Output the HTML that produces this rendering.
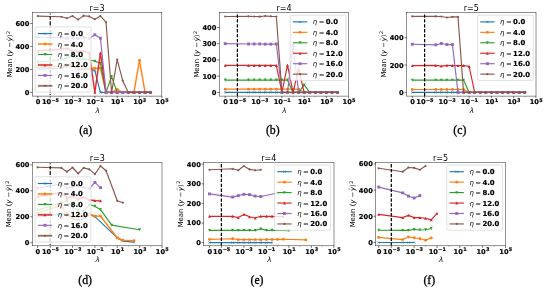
<!DOCTYPE html>
<html lang="en"><head><meta charset="utf-8"><title>Mean squared error vs lambda</title>
<style>html,body{margin:0;padding:0;background:#fff}svg{display:block;filter:blur(0.4px)}.b{font-weight:bold;stroke:#000;stroke-width:0.17px}text{white-space:pre}</style>
</head><body>
<svg width="550" height="292" viewBox="0 0 550 292" font-family="'DejaVu Sans','Liberation Sans',sans-serif" fill="#000">
<rect width="550" height="292" fill="#fff"/>
<g>
<clipPath id="ca"><rect x="32.3" y="12.5" width="129.5" height="83.6"/></clipPath>
<g clip-path="url(#ca)">
<path d="M37.8 69.1L61.36 67.83L66.94 66.57L72.52 65.54L78.1 69.44L83.68 70.01L89.26 68.75L94.84 70.59L100.42 92.4L106 92.4L111.58 92.4L117.16 92.4L122.74 92.4L128.32 92.4L133.9 92.4L139.48 92.4L145.06 92.4L150.64 92.4" fill="none" stroke="#1f77b4" stroke-width="1.15" stroke-linejoin="round"/>
<path d="M36.64 67.94L38.96 70.26M36.64 70.26L38.96 67.94" stroke="#1f77b4" stroke-width="0.6" fill="none"/>
<path d="M60.2 66.67L62.52 68.99M60.2 68.99L62.52 66.67" stroke="#1f77b4" stroke-width="0.6" fill="none"/>
<path d="M65.78 65.41L68.1 67.73M65.78 67.73L68.1 65.41" stroke="#1f77b4" stroke-width="0.6" fill="none"/>
<path d="M71.36 64.38L73.68 66.7M71.36 66.7L73.68 64.38" stroke="#1f77b4" stroke-width="0.6" fill="none"/>
<path d="M76.94 68.28L79.26 70.6M76.94 70.6L79.26 68.28" stroke="#1f77b4" stroke-width="0.6" fill="none"/>
<path d="M82.52 68.85L84.84 71.17M82.52 71.17L84.84 68.85" stroke="#1f77b4" stroke-width="0.6" fill="none"/>
<path d="M88.1 67.59L90.42 69.91M88.1 69.91L90.42 67.59" stroke="#1f77b4" stroke-width="0.6" fill="none"/>
<path d="M93.68 69.43L96 71.75M93.68 71.75L96 69.43" stroke="#1f77b4" stroke-width="0.6" fill="none"/>
<path d="M99.26 91.24L101.58 93.56M99.26 93.56L101.58 91.24" stroke="#1f77b4" stroke-width="0.6" fill="none"/>
<path d="M104.84 91.24L107.16 93.56M104.84 93.56L107.16 91.24" stroke="#1f77b4" stroke-width="0.6" fill="none"/>
<path d="M110.42 91.24L112.74 93.56M110.42 93.56L112.74 91.24" stroke="#1f77b4" stroke-width="0.6" fill="none"/>
<path d="M116 91.24L118.32 93.56M116 93.56L118.32 91.24" stroke="#1f77b4" stroke-width="0.6" fill="none"/>
<path d="M121.58 91.24L123.9 93.56M121.58 93.56L123.9 91.24" stroke="#1f77b4" stroke-width="0.6" fill="none"/>
<path d="M127.16 91.24L129.48 93.56M127.16 93.56L129.48 91.24" stroke="#1f77b4" stroke-width="0.6" fill="none"/>
<path d="M132.74 91.24L135.06 93.56M132.74 93.56L135.06 91.24" stroke="#1f77b4" stroke-width="0.6" fill="none"/>
<path d="M138.32 91.24L140.64 93.56M138.32 93.56L140.64 91.24" stroke="#1f77b4" stroke-width="0.6" fill="none"/>
<path d="M143.9 91.24L146.22 93.56M143.9 93.56L146.22 91.24" stroke="#1f77b4" stroke-width="0.6" fill="none"/>
<path d="M149.48 91.24L151.8 93.56M149.48 93.56L151.8 91.24" stroke="#1f77b4" stroke-width="0.6" fill="none"/>
<path d="M37.8 67.49L61.36 66.23L66.94 64.85L72.52 64.16L78.1 68.18L83.68 69.1L89.26 68.18L94.84 68.29L100.42 68.29L106 92.4L111.58 92.4L117.16 89.42L122.74 92.4L128.32 92.4L133.9 92.4L139.48 60.49L145.06 92.4L150.64 92.4" fill="none" stroke="#ff7f0e" stroke-width="1.9" stroke-opacity="0.33" stroke-linejoin="round"/>
<path d="M37.8 67.49L61.36 66.23L66.94 64.85L72.52 64.16L78.1 68.18L83.68 69.1L89.26 68.18L94.84 68.29L100.42 68.29L106 92.4L111.58 92.4L117.16 89.42L122.74 92.4L128.32 92.4L133.9 92.4L139.48 60.49L145.06 92.4L150.64 92.4" fill="none" stroke="#ff7f0e" stroke-width="1.15" stroke-linejoin="round"/>
<circle cx="37.8" cy="67.49" r="1.45" fill="#ff7f0e"/>
<circle cx="61.36" cy="66.23" r="1.45" fill="#ff7f0e"/>
<circle cx="66.94" cy="64.85" r="1.45" fill="#ff7f0e"/>
<circle cx="72.52" cy="64.16" r="1.45" fill="#ff7f0e"/>
<circle cx="78.1" cy="68.18" r="1.45" fill="#ff7f0e"/>
<circle cx="83.68" cy="69.1" r="1.45" fill="#ff7f0e"/>
<circle cx="89.26" cy="68.18" r="1.45" fill="#ff7f0e"/>
<circle cx="94.84" cy="68.29" r="1.45" fill="#ff7f0e"/>
<circle cx="100.42" cy="68.29" r="1.45" fill="#ff7f0e"/>
<circle cx="106" cy="92.4" r="1.45" fill="#ff7f0e"/>
<circle cx="111.58" cy="92.4" r="1.45" fill="#ff7f0e"/>
<circle cx="117.16" cy="89.42" r="1.45" fill="#ff7f0e"/>
<circle cx="122.74" cy="92.4" r="1.45" fill="#ff7f0e"/>
<circle cx="128.32" cy="92.4" r="1.45" fill="#ff7f0e"/>
<circle cx="133.9" cy="92.4" r="1.45" fill="#ff7f0e"/>
<circle cx="139.48" cy="60.49" r="1.45" fill="#ff7f0e"/>
<circle cx="145.06" cy="92.4" r="1.45" fill="#ff7f0e"/>
<circle cx="150.64" cy="92.4" r="1.45" fill="#ff7f0e"/>
<path d="M37.8 62.21L61.36 59.68L66.94 58.3L72.52 55.09L78.1 59.68L83.68 59.11L89.26 60.03L94.84 61.17L100.42 63.13L106 92.4L111.58 76.44L117.16 92.4L122.74 92.4L128.32 92.4L133.9 92.4L139.48 92.4L145.06 92.4L150.64 92.4" fill="none" stroke="#2ca02c" stroke-width="1.15" stroke-linejoin="round"/>
<path d="M36.35 60.76L39.25 60.76L37.8 63.66Z" fill="#2ca02c"/>
<path d="M59.91 58.23L62.81 58.23L61.36 61.13Z" fill="#2ca02c"/>
<path d="M65.49 56.85L68.39 56.85L66.94 59.75Z" fill="#2ca02c"/>
<path d="M71.07 53.64L73.97 53.64L72.52 56.54Z" fill="#2ca02c"/>
<path d="M76.65 58.23L79.55 58.23L78.1 61.13Z" fill="#2ca02c"/>
<path d="M82.23 57.66L85.13 57.66L83.68 60.56Z" fill="#2ca02c"/>
<path d="M87.81 58.58L90.71 58.58L89.26 61.48Z" fill="#2ca02c"/>
<path d="M93.39 59.72L96.29 59.72L94.84 62.62Z" fill="#2ca02c"/>
<path d="M98.97 61.68L101.87 61.68L100.42 64.58Z" fill="#2ca02c"/>
<path d="M104.55 90.95L107.45 90.95L106 93.85Z" fill="#2ca02c"/>
<path d="M110.13 74.99L113.03 74.99L111.58 77.89Z" fill="#2ca02c"/>
<path d="M115.71 90.95L118.61 90.95L117.16 93.85Z" fill="#2ca02c"/>
<path d="M121.29 90.95L124.19 90.95L122.74 93.85Z" fill="#2ca02c"/>
<path d="M126.87 90.95L129.77 90.95L128.32 93.85Z" fill="#2ca02c"/>
<path d="M132.45 90.95L135.35 90.95L133.9 93.85Z" fill="#2ca02c"/>
<path d="M138.03 90.95L140.93 90.95L139.48 93.85Z" fill="#2ca02c"/>
<path d="M143.61 90.95L146.51 90.95L145.06 93.85Z" fill="#2ca02c"/>
<path d="M149.19 90.95L152.09 90.95L150.64 93.85Z" fill="#2ca02c"/>
<path d="M37.8 50.96L61.36 49.12L66.94 48.55L72.52 50.96L78.1 51.42L83.68 50.96L89.26 53.02L94.84 92.4L100.42 53.02L106 92.4L111.58 92.4L117.16 92.4L122.74 92.4L128.32 92.4L133.9 92.4L139.48 92.4L145.06 92.4L150.64 92.4" fill="none" stroke="#d62728" stroke-width="1.9" stroke-opacity="0.33" stroke-linejoin="round"/>
<path d="M37.8 50.96L61.36 49.12L66.94 48.55L72.52 50.96L78.1 51.42L83.68 50.96L89.26 53.02L94.84 92.4L100.42 53.02L106 92.4L111.58 92.4L117.16 92.4L122.74 92.4L128.32 92.4L133.9 92.4L139.48 92.4L145.06 92.4L150.64 92.4" fill="none" stroke="#d62728" stroke-width="1.15" stroke-linejoin="round"/>
<path d="M36.35 52.41L39.25 52.41L37.8 49.51Z" fill="#d62728"/>
<path d="M59.91 50.57L62.81 50.57L61.36 47.67Z" fill="#d62728"/>
<path d="M65.49 50L68.39 50L66.94 47.1Z" fill="#d62728"/>
<path d="M71.07 52.41L73.97 52.41L72.52 49.51Z" fill="#d62728"/>
<path d="M76.65 52.87L79.55 52.87L78.1 49.97Z" fill="#d62728"/>
<path d="M82.23 52.41L85.13 52.41L83.68 49.51Z" fill="#d62728"/>
<path d="M87.81 54.47L90.71 54.47L89.26 51.57Z" fill="#d62728"/>
<path d="M93.39 93.85L96.29 93.85L94.84 90.95Z" fill="#d62728"/>
<path d="M98.97 54.47L101.87 54.47L100.42 51.57Z" fill="#d62728"/>
<path d="M104.55 93.85L107.45 93.85L106 90.95Z" fill="#d62728"/>
<path d="M110.13 93.85L113.03 93.85L111.58 90.95Z" fill="#d62728"/>
<path d="M115.71 93.85L118.61 93.85L117.16 90.95Z" fill="#d62728"/>
<path d="M121.29 93.85L124.19 93.85L122.74 90.95Z" fill="#d62728"/>
<path d="M126.87 93.85L129.77 93.85L128.32 90.95Z" fill="#d62728"/>
<path d="M132.45 93.85L135.35 93.85L133.9 90.95Z" fill="#d62728"/>
<path d="M138.03 93.85L140.93 93.85L139.48 90.95Z" fill="#d62728"/>
<path d="M143.61 93.85L146.51 93.85L145.06 90.95Z" fill="#d62728"/>
<path d="M149.19 93.85L152.09 93.85L150.64 90.95Z" fill="#d62728"/>
<path d="M37.8 37.3L61.36 37.53L66.94 38.21L72.52 37.76L78.1 38.44L83.68 37.53L89.26 38.44L94.84 34.77L100.42 38.21L106 92.4L111.58 92.4L117.16 92.4L122.74 92.4L128.32 92.4L133.9 92.4L139.48 92.4L145.06 92.4L150.64 92.4" fill="none" stroke="#9467bd" stroke-width="1.15" stroke-linejoin="round"/>
<rect x="36.35" y="35.85" width="2.9" height="2.9" fill="#9467bd"/>
<rect x="59.91" y="36.08" width="2.9" height="2.9" fill="#9467bd"/>
<rect x="65.49" y="36.76" width="2.9" height="2.9" fill="#9467bd"/>
<rect x="71.07" y="36.31" width="2.9" height="2.9" fill="#9467bd"/>
<rect x="76.65" y="36.99" width="2.9" height="2.9" fill="#9467bd"/>
<rect x="82.23" y="36.08" width="2.9" height="2.9" fill="#9467bd"/>
<rect x="87.81" y="36.99" width="2.9" height="2.9" fill="#9467bd"/>
<rect x="93.39" y="33.32" width="2.9" height="2.9" fill="#9467bd"/>
<rect x="98.97" y="36.76" width="2.9" height="2.9" fill="#9467bd"/>
<rect x="104.55" y="90.95" width="2.9" height="2.9" fill="#9467bd"/>
<rect x="110.13" y="90.95" width="2.9" height="2.9" fill="#9467bd"/>
<rect x="115.71" y="90.95" width="2.9" height="2.9" fill="#9467bd"/>
<rect x="121.29" y="90.95" width="2.9" height="2.9" fill="#9467bd"/>
<rect x="126.87" y="90.95" width="2.9" height="2.9" fill="#9467bd"/>
<rect x="132.45" y="90.95" width="2.9" height="2.9" fill="#9467bd"/>
<rect x="138.03" y="90.95" width="2.9" height="2.9" fill="#9467bd"/>
<rect x="143.61" y="90.95" width="2.9" height="2.9" fill="#9467bd"/>
<rect x="149.19" y="90.95" width="2.9" height="2.9" fill="#9467bd"/>
<path d="M37.8 16.06L61.36 16.75L66.94 18.24L72.52 16.06L78.1 19.62L83.68 15.71L89.26 16.4L94.84 19.27L100.42 16.06L106 22.14L111.58 92.4L117.16 59.57L122.74 80.69L128.32 92.4L133.9 92.4L139.48 92.4L145.06 92.4L150.64 92.4" fill="none" stroke="#8c564b" stroke-width="1.15" stroke-linejoin="round"/>
<circle cx="37.8" cy="16.06" r="1.09" fill="#8c564b"/>
<circle cx="61.36" cy="16.75" r="1.09" fill="#8c564b"/>
<circle cx="66.94" cy="18.24" r="1.09" fill="#8c564b"/>
<circle cx="72.52" cy="16.06" r="1.09" fill="#8c564b"/>
<circle cx="78.1" cy="19.62" r="1.09" fill="#8c564b"/>
<circle cx="83.68" cy="15.71" r="1.09" fill="#8c564b"/>
<circle cx="89.26" cy="16.4" r="1.09" fill="#8c564b"/>
<circle cx="94.84" cy="19.27" r="1.09" fill="#8c564b"/>
<circle cx="100.42" cy="16.06" r="1.09" fill="#8c564b"/>
<circle cx="106" cy="22.14" r="1.09" fill="#8c564b"/>
<circle cx="111.58" cy="92.4" r="1.09" fill="#8c564b"/>
<circle cx="117.16" cy="59.57" r="1.09" fill="#8c564b"/>
<circle cx="122.74" cy="80.69" r="1.09" fill="#8c564b"/>
<circle cx="128.32" cy="92.4" r="1.09" fill="#8c564b"/>
<circle cx="133.9" cy="92.4" r="1.09" fill="#8c564b"/>
<circle cx="139.48" cy="92.4" r="1.09" fill="#8c564b"/>
<circle cx="145.06" cy="92.4" r="1.09" fill="#8c564b"/>
<circle cx="150.64" cy="92.4" r="1.09" fill="#8c564b"/>
<path d="M50.2 96.1L50.2 12.5" stroke="#000" stroke-width="1.15" stroke-dasharray="1 1.6 4.1 1.5 3.4 1.8" stroke-dashoffset="12.3" fill="none"/>
</g>
<rect x="32.3" y="12.5" width="129.5" height="83.6" fill="none" stroke="#222" stroke-width="0.5"/>
<path d="M37.8 96.1v2.1M50.2 96.1v2.1M72.52 96.1v2.1M94.84 96.1v2.1M117.16 96.1v2.1M139.48 96.1v2.1M161.8 96.1v2.1M32.3 92.4h-2.1M32.3 69.44h-2.1M32.3 46.48h-2.1M32.3 23.52h-2.1" stroke="#000" stroke-width="0.55" fill="none"/>
<path d="M61.36 96.1v1.2M83.68 96.1v1.2M106 96.1v1.2M128.32 96.1v1.2M150.64 96.1v1.2" stroke="#000" stroke-width="0.4" stroke-opacity="0.6" fill="none"/>
<text x="38.1" y="104.4" text-anchor="middle" class="b" font-size="6.7">0</text>
<text x="50.5" y="104.4" text-anchor="middle" class="b" font-size="6.7">10<tspan dx="0.25" dy="-2.8" font-size="4.96">−5</tspan></text>
<text x="72.82" y="104.4" text-anchor="middle" class="b" font-size="6.7">10<tspan dx="0.25" dy="-2.8" font-size="4.96">−3</tspan></text>
<text x="95.14" y="104.4" text-anchor="middle" class="b" font-size="6.7">10<tspan dx="0.25" dy="-2.8" font-size="4.96">−1</tspan></text>
<text x="117.46" y="104.4" text-anchor="middle" class="b" font-size="6.7">10<tspan dx="0.25" dy="-2.8" font-size="4.96">1</tspan></text>
<text x="139.78" y="104.4" text-anchor="middle" class="b" font-size="6.7">10<tspan dx="0.25" dy="-2.8" font-size="4.96">3</tspan></text>
<text x="162.1" y="104.4" text-anchor="middle" class="b" font-size="6.7">10<tspan dx="0.25" dy="-2.8" font-size="4.96">5</tspan></text>
<text x="29.4" y="94.85" text-anchor="end" class="b" font-size="6.7">0</text>
<text x="29.4" y="71.89" text-anchor="end" class="b" font-size="6.7">200</text>
<text x="29.4" y="48.93" text-anchor="end" class="b" font-size="6.7">400</text>
<text x="29.4" y="25.97" text-anchor="end" class="b" font-size="6.7">600</text>
<text x="97.05" y="10.7" text-anchor="middle" font-size="8.0">r=3</text>
<text x="97.55" y="112.6" text-anchor="middle" font-style="italic" font-size="7.3">λ</text>
<text transform="translate(12.4 54.3) rotate(-90)" text-anchor="middle" font-size="6.9">Mean (<tspan font-style="italic">y</tspan><tspan dx="2.1">−</tspan><tspan dx="0.7" font-style="italic">y</tspan><tspan dx="-3.2" dy="-1.8" font-size="5.6">ˆ</tspan><tspan dx="0.4" dy="1.8">)</tspan><tspan dx="0.4" dy="-2.6" font-size="4.83">2</tspan></text>
<rect x="35.2" y="26.9" width="55.8" height="65.2" rx="1.4" fill="#fff" fill-opacity="0.8" stroke="#ccc" stroke-width="0.6"/>
<path d="M37.9 33.6h14.4" stroke="#1f77b4" stroke-width="1.15" fill="none"/>
<path d="M43.94 32.44L46.26 34.76M43.94 34.76L46.26 32.44" stroke="#1f77b4" stroke-width="0.6" fill="none"/>
<text y="36.1" font-size="6.9"><tspan x="57.8" font-style="italic">η</tspan><tspan x="63.7">=</tspan><tspan x="70.8" class="b">0.0</tspan></text>
<path d="M37.9 44.05h14.4" stroke="#ff7f0e" stroke-width="2.1" stroke-opacity="0.42" fill="none"/>
<path d="M37.9 44.05h14.4" stroke="#ff7f0e" stroke-width="1.15" fill="none"/>
<circle cx="45.1" cy="44.05" r="1.45" fill="#ff7f0e"/>
<text y="46.55" font-size="6.9"><tspan x="57.8" font-style="italic">η</tspan><tspan x="63.7">=</tspan><tspan x="70.8" class="b">4.0</tspan></text>
<path d="M37.9 54.5h14.4" stroke="#2ca02c" stroke-width="1.15" fill="none"/>
<path d="M43.65 53.05L46.55 53.05L45.1 55.95Z" fill="#2ca02c"/>
<text y="57" font-size="6.9"><tspan x="57.8" font-style="italic">η</tspan><tspan x="63.7">=</tspan><tspan x="70.8" class="b">8.0</tspan></text>
<path d="M37.9 64.95h14.4" stroke="#d62728" stroke-width="2.1" stroke-opacity="0.42" fill="none"/>
<path d="M37.9 64.95h14.4" stroke="#d62728" stroke-width="1.15" fill="none"/>
<path d="M43.65 66.4L46.55 66.4L45.1 63.5Z" fill="#d62728"/>
<text y="67.45" font-size="6.9"><tspan x="57.8" font-style="italic">η</tspan><tspan x="63.7">=</tspan><tspan x="70.8" class="b">12.0</tspan></text>
<path d="M37.9 75.4h14.4" stroke="#9467bd" stroke-width="1.15" fill="none"/>
<rect x="43.65" y="73.95" width="2.9" height="2.9" fill="#9467bd"/>
<text y="77.9" font-size="6.9"><tspan x="57.8" font-style="italic">η</tspan><tspan x="63.7">=</tspan><tspan x="70.8" class="b">16.0</tspan></text>
<path d="M37.9 85.85h14.4" stroke="#8c564b" stroke-width="2.1" stroke-opacity="0.42" fill="none"/>
<path d="M37.9 85.85h14.4" stroke="#8c564b" stroke-width="1.15" fill="none"/>
<circle cx="45.1" cy="85.85" r="1.09" fill="#8c564b"/>
<text y="88.35" font-size="6.9"><tspan x="57.8" font-style="italic">η</tspan><tspan x="63.7">=</tspan><tspan x="70.8" class="b">20.0</tspan></text>
<text x="85.7" y="134.3" text-anchor="middle" font-family="'Liberation Serif','DejaVu Serif',serif" font-size="11.8" stroke="#000" stroke-width="0.3">(a)</text>
</g>
<g>
<clipPath id="cb"><rect x="219.3" y="12.5" width="129.4" height="83.6"/></clipPath>
<g clip-path="url(#cb)">
<path d="M225.2 92.4L248.53 92.4L254.09 92.4L259.66 92.4L265.23 92.4L270.79 92.4L276.36 92.4L281.92 92.4L287.49 92.4L293.05 92.4L298.62 92.4L304.18 92.4L309.75 92.4L315.31 92.4L320.88 92.4L326.44 92.4L332 92.4L337.57 92.4" fill="none" stroke="#1f77b4" stroke-width="1.15" stroke-linejoin="round"/>
<path d="M224.04 91.24L226.36 93.56M224.04 93.56L226.36 91.24" stroke="#1f77b4" stroke-width="0.6" fill="none"/>
<path d="M247.37 91.24L249.69 93.56M247.37 93.56L249.69 91.24" stroke="#1f77b4" stroke-width="0.6" fill="none"/>
<path d="M252.94 91.24L255.25 93.56M252.94 93.56L255.25 91.24" stroke="#1f77b4" stroke-width="0.6" fill="none"/>
<path d="M258.5 91.24L260.82 93.56M258.5 93.56L260.82 91.24" stroke="#1f77b4" stroke-width="0.6" fill="none"/>
<path d="M264.06 91.24L266.39 93.56M264.06 93.56L266.39 91.24" stroke="#1f77b4" stroke-width="0.6" fill="none"/>
<path d="M269.63 91.24L271.95 93.56M269.63 93.56L271.95 91.24" stroke="#1f77b4" stroke-width="0.6" fill="none"/>
<path d="M275.19 91.24L277.52 93.56M275.19 93.56L277.52 91.24" stroke="#1f77b4" stroke-width="0.6" fill="none"/>
<path d="M280.76 91.24L283.08 93.56M280.76 93.56L283.08 91.24" stroke="#1f77b4" stroke-width="0.6" fill="none"/>
<path d="M286.32 91.24L288.65 93.56M286.32 93.56L288.65 91.24" stroke="#1f77b4" stroke-width="0.6" fill="none"/>
<path d="M291.89 91.24L294.21 93.56M291.89 93.56L294.21 91.24" stroke="#1f77b4" stroke-width="0.6" fill="none"/>
<path d="M297.45 91.24L299.78 93.56M297.45 93.56L299.78 91.24" stroke="#1f77b4" stroke-width="0.6" fill="none"/>
<path d="M303.02 91.24L305.34 93.56M303.02 93.56L305.34 91.24" stroke="#1f77b4" stroke-width="0.6" fill="none"/>
<path d="M308.58 91.24L310.91 93.56M308.58 93.56L310.91 91.24" stroke="#1f77b4" stroke-width="0.6" fill="none"/>
<path d="M314.15 91.24L316.47 93.56M314.15 93.56L316.47 91.24" stroke="#1f77b4" stroke-width="0.6" fill="none"/>
<path d="M319.71 91.24L322.04 93.56M319.71 93.56L322.04 91.24" stroke="#1f77b4" stroke-width="0.6" fill="none"/>
<path d="M325.28 91.24L327.6 93.56M325.28 93.56L327.6 91.24" stroke="#1f77b4" stroke-width="0.6" fill="none"/>
<path d="M330.84 91.24L333.17 93.56M330.84 93.56L333.17 91.24" stroke="#1f77b4" stroke-width="0.6" fill="none"/>
<path d="M336.41 91.24L338.73 93.56M336.41 93.56L338.73 91.24" stroke="#1f77b4" stroke-width="0.6" fill="none"/>
<path d="M225.2 89.15L248.53 89.15L254.09 89.15L259.66 89.15L265.23 89.15L270.79 89.15L276.36 89.15L281.92 89.15L287.49 89.15L293.05 89.15L298.62 89.15L304.18 92.4L309.75 92.4L315.31 92.4L320.88 92.4L326.44 92.4L332 92.4L337.57 92.4" fill="none" stroke="#ff7f0e" stroke-width="1.15" stroke-linejoin="round"/>
<circle cx="225.2" cy="89.15" r="1.45" fill="#ff7f0e"/>
<circle cx="248.53" cy="89.15" r="1.45" fill="#ff7f0e"/>
<circle cx="254.09" cy="89.15" r="1.45" fill="#ff7f0e"/>
<circle cx="259.66" cy="89.15" r="1.45" fill="#ff7f0e"/>
<circle cx="265.23" cy="89.15" r="1.45" fill="#ff7f0e"/>
<circle cx="270.79" cy="89.15" r="1.45" fill="#ff7f0e"/>
<circle cx="276.36" cy="89.15" r="1.45" fill="#ff7f0e"/>
<circle cx="281.92" cy="89.15" r="1.45" fill="#ff7f0e"/>
<circle cx="287.49" cy="89.15" r="1.45" fill="#ff7f0e"/>
<circle cx="293.05" cy="89.15" r="1.45" fill="#ff7f0e"/>
<circle cx="298.62" cy="89.15" r="1.45" fill="#ff7f0e"/>
<circle cx="304.18" cy="92.4" r="1.45" fill="#ff7f0e"/>
<circle cx="309.75" cy="92.4" r="1.45" fill="#ff7f0e"/>
<circle cx="315.31" cy="92.4" r="1.45" fill="#ff7f0e"/>
<circle cx="320.88" cy="92.4" r="1.45" fill="#ff7f0e"/>
<circle cx="326.44" cy="92.4" r="1.45" fill="#ff7f0e"/>
<circle cx="332" cy="92.4" r="1.45" fill="#ff7f0e"/>
<circle cx="337.57" cy="92.4" r="1.45" fill="#ff7f0e"/>
<path d="M225.2 80.05L248.53 80.05L254.09 80.05L259.66 80.05L265.23 80.05L270.79 80.05L276.36 80.05L281.92 80.05L287.49 80.05L293.05 92.4L298.62 92.4L304.18 84.93L309.75 92.4L315.31 92.4L320.88 92.4L326.44 92.4L332 92.4L337.57 92.4" fill="none" stroke="#2ca02c" stroke-width="1.15" stroke-linejoin="round"/>
<path d="M223.75 78.6L226.65 78.6L225.2 81.5Z" fill="#2ca02c"/>
<path d="M247.08 78.6L249.98 78.6L248.53 81.5Z" fill="#2ca02c"/>
<path d="M252.65 78.6L255.54 78.6L254.09 81.5Z" fill="#2ca02c"/>
<path d="M258.21 78.6L261.11 78.6L259.66 81.5Z" fill="#2ca02c"/>
<path d="M263.78 78.6L266.68 78.6L265.23 81.5Z" fill="#2ca02c"/>
<path d="M269.34 78.6L272.24 78.6L270.79 81.5Z" fill="#2ca02c"/>
<path d="M274.91 78.6L277.81 78.6L276.36 81.5Z" fill="#2ca02c"/>
<path d="M280.47 78.6L283.37 78.6L281.92 81.5Z" fill="#2ca02c"/>
<path d="M286.04 78.6L288.94 78.6L287.49 81.5Z" fill="#2ca02c"/>
<path d="M291.6 90.95L294.5 90.95L293.05 93.85Z" fill="#2ca02c"/>
<path d="M297.17 90.95L300.06 90.95L298.62 93.85Z" fill="#2ca02c"/>
<path d="M302.73 83.48L305.63 83.48L304.18 86.38Z" fill="#2ca02c"/>
<path d="M308.3 90.95L311.19 90.95L309.75 93.85Z" fill="#2ca02c"/>
<path d="M313.86 90.95L316.76 90.95L315.31 93.85Z" fill="#2ca02c"/>
<path d="M319.43 90.95L322.32 90.95L320.88 93.85Z" fill="#2ca02c"/>
<path d="M324.99 90.95L327.89 90.95L326.44 93.85Z" fill="#2ca02c"/>
<path d="M330.56 90.95L333.45 90.95L332 93.85Z" fill="#2ca02c"/>
<path d="M336.12 90.95L339.02 90.95L337.57 93.85Z" fill="#2ca02c"/>
<path d="M225.2 65.43L248.53 65.43L254.09 65.43L259.66 65.43L265.23 65.43L270.79 65.43L276.36 65.43L281.92 92.4L287.49 65.1L293.05 92.4L298.62 68.84L304.18 92.4L309.75 92.4L315.31 92.4L320.88 92.4L326.44 92.4L332 92.4L337.57 92.4" fill="none" stroke="#d62728" stroke-width="1.15" stroke-linejoin="round"/>
<path d="M223.75 66.88L226.65 66.88L225.2 63.98Z" fill="#d62728"/>
<path d="M247.08 66.88L249.98 66.88L248.53 63.98Z" fill="#d62728"/>
<path d="M252.65 66.88L255.54 66.88L254.09 63.98Z" fill="#d62728"/>
<path d="M258.21 66.88L261.11 66.88L259.66 63.98Z" fill="#d62728"/>
<path d="M263.78 66.88L266.68 66.88L265.23 63.98Z" fill="#d62728"/>
<path d="M269.34 66.88L272.24 66.88L270.79 63.98Z" fill="#d62728"/>
<path d="M274.91 66.88L277.81 66.88L276.36 63.98Z" fill="#d62728"/>
<path d="M280.47 93.85L283.37 93.85L281.92 90.95Z" fill="#d62728"/>
<path d="M286.04 66.55L288.94 66.55L287.49 63.65Z" fill="#d62728"/>
<path d="M291.6 93.85L294.5 93.85L293.05 90.95Z" fill="#d62728"/>
<path d="M297.17 70.29L300.06 70.29L298.62 67.39Z" fill="#d62728"/>
<path d="M302.73 93.85L305.63 93.85L304.18 90.95Z" fill="#d62728"/>
<path d="M308.3 93.85L311.19 93.85L309.75 90.95Z" fill="#d62728"/>
<path d="M313.86 93.85L316.76 93.85L315.31 90.95Z" fill="#d62728"/>
<path d="M319.43 93.85L322.32 93.85L320.88 90.95Z" fill="#d62728"/>
<path d="M324.99 93.85L327.89 93.85L326.44 90.95Z" fill="#d62728"/>
<path d="M330.56 93.85L333.45 93.85L332 90.95Z" fill="#d62728"/>
<path d="M336.12 93.85L339.02 93.85L337.57 90.95Z" fill="#d62728"/>
<path d="M225.2 43.65L248.53 43.98L254.09 43.98L259.66 43.98L265.23 44.14L270.79 44.14L276.36 43.98L281.92 92.4L287.49 92.4L293.05 45.76L298.62 92.4L304.18 92.4L309.75 92.4L315.31 92.4L320.88 92.4L326.44 92.4L332 92.4L337.57 92.4" fill="none" stroke="#9467bd" stroke-width="1.15" stroke-linejoin="round"/>
<rect x="223.75" y="42.2" width="2.9" height="2.9" fill="#9467bd"/>
<rect x="247.08" y="42.52" width="2.9" height="2.9" fill="#9467bd"/>
<rect x="252.65" y="42.52" width="2.9" height="2.9" fill="#9467bd"/>
<rect x="258.21" y="42.52" width="2.9" height="2.9" fill="#9467bd"/>
<rect x="263.78" y="42.69" width="2.9" height="2.9" fill="#9467bd"/>
<rect x="269.34" y="42.69" width="2.9" height="2.9" fill="#9467bd"/>
<rect x="274.91" y="42.52" width="2.9" height="2.9" fill="#9467bd"/>
<rect x="280.47" y="90.95" width="2.9" height="2.9" fill="#9467bd"/>
<rect x="286.04" y="90.95" width="2.9" height="2.9" fill="#9467bd"/>
<rect x="291.6" y="44.31" width="2.9" height="2.9" fill="#9467bd"/>
<rect x="297.17" y="90.95" width="2.9" height="2.9" fill="#9467bd"/>
<rect x="302.73" y="90.95" width="2.9" height="2.9" fill="#9467bd"/>
<rect x="308.3" y="90.95" width="2.9" height="2.9" fill="#9467bd"/>
<rect x="313.86" y="90.95" width="2.9" height="2.9" fill="#9467bd"/>
<rect x="319.43" y="90.95" width="2.9" height="2.9" fill="#9467bd"/>
<rect x="324.99" y="90.95" width="2.9" height="2.9" fill="#9467bd"/>
<rect x="330.56" y="90.95" width="2.9" height="2.9" fill="#9467bd"/>
<rect x="336.12" y="90.95" width="2.9" height="2.9" fill="#9467bd"/>
<path d="M225.2 16.51L248.53 16.35L254.09 16.51L259.66 16.67L265.23 16.03L270.79 16.35L276.36 16.51L281.92 92.4L287.49 92.4L293.05 92.4L298.62 92.4L304.18 92.4L309.75 92.4L315.31 92.4L320.88 92.4L326.44 92.4L332 92.4L337.57 92.4" fill="none" stroke="#8c564b" stroke-width="1.15" stroke-linejoin="round"/>
<circle cx="225.2" cy="16.51" r="1.09" fill="#8c564b"/>
<circle cx="248.53" cy="16.35" r="1.09" fill="#8c564b"/>
<circle cx="254.09" cy="16.51" r="1.09" fill="#8c564b"/>
<circle cx="259.66" cy="16.67" r="1.09" fill="#8c564b"/>
<circle cx="265.23" cy="16.03" r="1.09" fill="#8c564b"/>
<circle cx="270.79" cy="16.35" r="1.09" fill="#8c564b"/>
<circle cx="276.36" cy="16.51" r="1.09" fill="#8c564b"/>
<circle cx="281.92" cy="92.4" r="1.09" fill="#8c564b"/>
<circle cx="287.49" cy="92.4" r="1.09" fill="#8c564b"/>
<circle cx="293.05" cy="92.4" r="1.09" fill="#8c564b"/>
<circle cx="298.62" cy="92.4" r="1.09" fill="#8c564b"/>
<circle cx="304.18" cy="92.4" r="1.09" fill="#8c564b"/>
<circle cx="309.75" cy="92.4" r="1.09" fill="#8c564b"/>
<circle cx="315.31" cy="92.4" r="1.09" fill="#8c564b"/>
<circle cx="320.88" cy="92.4" r="1.09" fill="#8c564b"/>
<circle cx="326.44" cy="92.4" r="1.09" fill="#8c564b"/>
<circle cx="332" cy="92.4" r="1.09" fill="#8c564b"/>
<circle cx="337.57" cy="92.4" r="1.09" fill="#8c564b"/>
<path d="M237.4 96.1L237.4 12.5" stroke="#000" stroke-width="1.25" stroke-dasharray="3.3 1.6" fill="none"/>
</g>
<rect x="219.3" y="12.5" width="129.4" height="83.6" fill="none" stroke="#222" stroke-width="0.5"/>
<path d="M225.2 96.1v2.1M237.4 96.1v2.1M259.66 96.1v2.1M281.92 96.1v2.1M304.18 96.1v2.1M326.44 96.1v2.1M348.7 96.1v2.1M219.3 92.4h-2.1M219.3 76.15h-2.1M219.3 59.9h-2.1M219.3 43.65h-2.1M219.3 27.4h-2.1" stroke="#000" stroke-width="0.55" fill="none"/>
<path d="M248.53 96.1v1.2M270.79 96.1v1.2M293.05 96.1v1.2M315.31 96.1v1.2M337.57 96.1v1.2" stroke="#000" stroke-width="0.4" stroke-opacity="0.6" fill="none"/>
<text x="225.5" y="104.4" text-anchor="middle" class="b" font-size="6.7">0</text>
<text x="237.7" y="104.4" text-anchor="middle" class="b" font-size="6.7">10<tspan dx="0.25" dy="-2.8" font-size="4.96">−5</tspan></text>
<text x="259.96" y="104.4" text-anchor="middle" class="b" font-size="6.7">10<tspan dx="0.25" dy="-2.8" font-size="4.96">−3</tspan></text>
<text x="282.22" y="104.4" text-anchor="middle" class="b" font-size="6.7">10<tspan dx="0.25" dy="-2.8" font-size="4.96">−1</tspan></text>
<text x="304.48" y="104.4" text-anchor="middle" class="b" font-size="6.7">10<tspan dx="0.25" dy="-2.8" font-size="4.96">1</tspan></text>
<text x="326.74" y="104.4" text-anchor="middle" class="b" font-size="6.7">10<tspan dx="0.25" dy="-2.8" font-size="4.96">3</tspan></text>
<text x="349" y="104.4" text-anchor="middle" class="b" font-size="6.7">10<tspan dx="0.25" dy="-2.8" font-size="4.96">5</tspan></text>
<text x="216.4" y="94.85" text-anchor="end" class="b" font-size="6.7">0</text>
<text x="216.4" y="78.6" text-anchor="end" class="b" font-size="6.7">100</text>
<text x="216.4" y="62.35" text-anchor="end" class="b" font-size="6.7">200</text>
<text x="216.4" y="46.1" text-anchor="end" class="b" font-size="6.7">300</text>
<text x="216.4" y="29.85" text-anchor="end" class="b" font-size="6.7">400</text>
<text x="284" y="10.7" text-anchor="middle" font-size="8.0">r=4</text>
<text x="284.5" y="112.6" text-anchor="middle" font-style="italic" font-size="7.3">λ</text>
<text transform="translate(199.4 54.3) rotate(-90)" text-anchor="middle" font-size="6.9">Mean (<tspan font-style="italic">y</tspan><tspan dx="2.1">−</tspan><tspan dx="0.7" font-style="italic">y</tspan><tspan dx="-3.2" dy="-1.8" font-size="5.6">ˆ</tspan><tspan dx="0.4" dy="1.8">)</tspan><tspan dx="0.4" dy="-2.6" font-size="4.83">2</tspan></text>
<rect x="290.2" y="15.2" width="55.8" height="65.2" rx="1.4" fill="#fff" fill-opacity="0.8" stroke="#ccc" stroke-width="0.6"/>
<path d="M292.9 21.9h14.4" stroke="#1f77b4" stroke-width="1.15" fill="none"/>
<path d="M298.94 20.74L301.26 23.06M298.94 23.06L301.26 20.74" stroke="#1f77b4" stroke-width="0.6" fill="none"/>
<text y="24.4" font-size="6.9"><tspan x="312.8" font-style="italic">η</tspan><tspan x="318.7">=</tspan><tspan x="325.8" class="b">0.0</tspan></text>
<path d="M292.9 32.35h14.4" stroke="#ff7f0e" stroke-width="1.15" fill="none"/>
<circle cx="300.1" cy="32.35" r="1.45" fill="#ff7f0e"/>
<text y="34.85" font-size="6.9"><tspan x="312.8" font-style="italic">η</tspan><tspan x="318.7">=</tspan><tspan x="325.8" class="b">4.0</tspan></text>
<path d="M292.9 42.8h14.4" stroke="#2ca02c" stroke-width="1.15" fill="none"/>
<path d="M298.65 41.35L301.55 41.35L300.1 44.25Z" fill="#2ca02c"/>
<text y="45.3" font-size="6.9"><tspan x="312.8" font-style="italic">η</tspan><tspan x="318.7">=</tspan><tspan x="325.8" class="b">8.0</tspan></text>
<path d="M292.9 53.25h14.4" stroke="#d62728" stroke-width="1.15" fill="none"/>
<path d="M298.65 54.7L301.55 54.7L300.1 51.8Z" fill="#d62728"/>
<text y="55.75" font-size="6.9"><tspan x="312.8" font-style="italic">η</tspan><tspan x="318.7">=</tspan><tspan x="325.8" class="b">12.0</tspan></text>
<path d="M292.9 63.7h14.4" stroke="#9467bd" stroke-width="1.15" fill="none"/>
<rect x="298.65" y="62.25" width="2.9" height="2.9" fill="#9467bd"/>
<text y="66.2" font-size="6.9"><tspan x="312.8" font-style="italic">η</tspan><tspan x="318.7">=</tspan><tspan x="325.8" class="b">16.0</tspan></text>
<path d="M292.9 74.15h14.4" stroke="#8c564b" stroke-width="1.15" fill="none"/>
<circle cx="300.1" cy="74.15" r="1.09" fill="#8c564b"/>
<text y="76.65" font-size="6.9"><tspan x="312.8" font-style="italic">η</tspan><tspan x="318.7">=</tspan><tspan x="325.8" class="b">20.0</tspan></text>
<text x="272.8" y="134.3" text-anchor="middle" font-family="'Liberation Serif','DejaVu Serif',serif" font-size="11.8" stroke="#000" stroke-width="0.3">(b)</text>
</g>
<g>
<clipPath id="cc"><rect x="406.6" y="12.5" width="129.4" height="83.6"/></clipPath>
<g clip-path="url(#cc)">
<path d="M412.3 92.4L435.73 92.4L441.3 92.4L446.86 92.4L452.43 92.4L457.99 92.4L463.56 92.4L469.12 92.4L474.69 92.4L480.25 92.4L485.82 92.4L491.38 92.4L496.95 92.4L502.51 92.4L508.08 92.4L513.64 92.4L519.21 92.4L524.77 92.4" fill="none" stroke="#1f77b4" stroke-width="1.15" stroke-linejoin="round"/>
<path d="M411.14 91.24L413.46 93.56M411.14 93.56L413.46 91.24" stroke="#1f77b4" stroke-width="0.6" fill="none"/>
<path d="M434.57 91.24L436.89 93.56M434.57 93.56L436.89 91.24" stroke="#1f77b4" stroke-width="0.6" fill="none"/>
<path d="M440.13 91.24L442.46 93.56M440.13 93.56L442.46 91.24" stroke="#1f77b4" stroke-width="0.6" fill="none"/>
<path d="M445.7 91.24L448.02 93.56M445.7 93.56L448.02 91.24" stroke="#1f77b4" stroke-width="0.6" fill="none"/>
<path d="M451.26 91.24L453.59 93.56M451.26 93.56L453.59 91.24" stroke="#1f77b4" stroke-width="0.6" fill="none"/>
<path d="M456.83 91.24L459.15 93.56M456.83 93.56L459.15 91.24" stroke="#1f77b4" stroke-width="0.6" fill="none"/>
<path d="M462.39 91.24L464.72 93.56M462.39 93.56L464.72 91.24" stroke="#1f77b4" stroke-width="0.6" fill="none"/>
<path d="M467.96 91.24L470.28 93.56M467.96 93.56L470.28 91.24" stroke="#1f77b4" stroke-width="0.6" fill="none"/>
<path d="M473.52 91.24L475.85 93.56M473.52 93.56L475.85 91.24" stroke="#1f77b4" stroke-width="0.6" fill="none"/>
<path d="M479.09 91.24L481.41 93.56M479.09 93.56L481.41 91.24" stroke="#1f77b4" stroke-width="0.6" fill="none"/>
<path d="M484.66 91.24L486.98 93.56M484.66 93.56L486.98 91.24" stroke="#1f77b4" stroke-width="0.6" fill="none"/>
<path d="M490.22 91.24L492.54 93.56M490.22 93.56L492.54 91.24" stroke="#1f77b4" stroke-width="0.6" fill="none"/>
<path d="M495.79 91.24L498.11 93.56M495.79 93.56L498.11 91.24" stroke="#1f77b4" stroke-width="0.6" fill="none"/>
<path d="M501.35 91.24L503.67 93.56M501.35 93.56L503.67 91.24" stroke="#1f77b4" stroke-width="0.6" fill="none"/>
<path d="M506.92 91.24L509.24 93.56M506.92 93.56L509.24 91.24" stroke="#1f77b4" stroke-width="0.6" fill="none"/>
<path d="M512.48 91.24L514.8 93.56M512.48 93.56L514.8 91.24" stroke="#1f77b4" stroke-width="0.6" fill="none"/>
<path d="M518.05 91.24L520.37 93.56M518.05 93.56L520.37 91.24" stroke="#1f77b4" stroke-width="0.6" fill="none"/>
<path d="M523.61 91.24L525.93 93.56M523.61 93.56L525.93 91.24" stroke="#1f77b4" stroke-width="0.6" fill="none"/>
<path d="M412.3 89.53L435.73 89.53L441.3 89.53L446.86 89.53L452.43 89.53L457.99 89.53L463.56 89.53L469.12 92.4L474.69 92.4L480.25 92.4L485.82 92.4L491.38 92.4L496.95 92.4L502.51 92.4L508.08 92.4L513.64 92.4L519.21 92.4L524.77 92.4" fill="none" stroke="#ff7f0e" stroke-width="1.15" stroke-linejoin="round"/>
<circle cx="412.3" cy="89.53" r="1.45" fill="#ff7f0e"/>
<circle cx="435.73" cy="89.53" r="1.45" fill="#ff7f0e"/>
<circle cx="441.3" cy="89.53" r="1.45" fill="#ff7f0e"/>
<circle cx="446.86" cy="89.53" r="1.45" fill="#ff7f0e"/>
<circle cx="452.43" cy="89.53" r="1.45" fill="#ff7f0e"/>
<circle cx="457.99" cy="89.53" r="1.45" fill="#ff7f0e"/>
<circle cx="463.56" cy="89.53" r="1.45" fill="#ff7f0e"/>
<circle cx="469.12" cy="92.4" r="1.45" fill="#ff7f0e"/>
<circle cx="474.69" cy="92.4" r="1.45" fill="#ff7f0e"/>
<circle cx="480.25" cy="92.4" r="1.45" fill="#ff7f0e"/>
<circle cx="485.82" cy="92.4" r="1.45" fill="#ff7f0e"/>
<circle cx="491.38" cy="92.4" r="1.45" fill="#ff7f0e"/>
<circle cx="496.95" cy="92.4" r="1.45" fill="#ff7f0e"/>
<circle cx="502.51" cy="92.4" r="1.45" fill="#ff7f0e"/>
<circle cx="508.08" cy="92.4" r="1.45" fill="#ff7f0e"/>
<circle cx="513.64" cy="92.4" r="1.45" fill="#ff7f0e"/>
<circle cx="519.21" cy="92.4" r="1.45" fill="#ff7f0e"/>
<circle cx="524.77" cy="92.4" r="1.45" fill="#ff7f0e"/>
<path d="M412.3 80.1L435.73 80.1L441.3 80.1L446.86 80.1L452.43 80.1L457.99 80.1L463.56 80.1L469.12 92.4L474.69 92.4L480.25 92.4L485.82 92.4L491.38 92.4L496.95 92.4L502.51 92.4L508.08 92.4L513.64 92.4L519.21 92.4L524.77 92.4" fill="none" stroke="#2ca02c" stroke-width="1.15" stroke-linejoin="round"/>
<path d="M410.85 78.65L413.75 78.65L412.3 81.55Z" fill="#2ca02c"/>
<path d="M434.28 78.65L437.18 78.65L435.73 81.55Z" fill="#2ca02c"/>
<path d="M439.85 78.65L442.75 78.65L441.3 81.55Z" fill="#2ca02c"/>
<path d="M445.41 78.65L448.31 78.65L446.86 81.55Z" fill="#2ca02c"/>
<path d="M450.98 78.65L453.88 78.65L452.43 81.55Z" fill="#2ca02c"/>
<path d="M456.54 78.65L459.44 78.65L457.99 81.55Z" fill="#2ca02c"/>
<path d="M462.11 78.65L465 78.65L463.56 81.55Z" fill="#2ca02c"/>
<path d="M467.67 90.95L470.57 90.95L469.12 93.85Z" fill="#2ca02c"/>
<path d="M473.24 90.95L476.13 90.95L474.69 93.85Z" fill="#2ca02c"/>
<path d="M478.8 90.95L481.7 90.95L480.25 93.85Z" fill="#2ca02c"/>
<path d="M484.37 90.95L487.27 90.95L485.82 93.85Z" fill="#2ca02c"/>
<path d="M489.93 90.95L492.83 90.95L491.38 93.85Z" fill="#2ca02c"/>
<path d="M495.5 90.95L498.4 90.95L496.95 93.85Z" fill="#2ca02c"/>
<path d="M501.06 90.95L503.96 90.95L502.51 93.85Z" fill="#2ca02c"/>
<path d="M506.63 90.95L509.53 90.95L508.08 93.85Z" fill="#2ca02c"/>
<path d="M512.19 90.95L515.09 90.95L513.64 93.85Z" fill="#2ca02c"/>
<path d="M517.75 90.95L520.66 90.95L519.21 93.85Z" fill="#2ca02c"/>
<path d="M523.32 90.95L526.22 90.95L524.77 93.85Z" fill="#2ca02c"/>
<path d="M412.3 65.61L435.73 65.33L441.3 66.15L446.86 65.33L452.43 65.47L457.99 65.61L463.56 65.47L469.12 66.43L474.69 92.4L480.25 92.4L485.82 92.4L491.38 92.4L496.95 92.4L502.51 92.4L508.08 92.4L513.64 92.4L519.21 92.4L524.77 92.4" fill="none" stroke="#d62728" stroke-width="1.15" stroke-linejoin="round"/>
<path d="M410.85 67.06L413.75 67.06L412.3 64.16Z" fill="#d62728"/>
<path d="M434.28 66.78L437.18 66.78L435.73 63.88Z" fill="#d62728"/>
<path d="M439.85 67.6L442.75 67.6L441.3 64.7Z" fill="#d62728"/>
<path d="M445.41 66.78L448.31 66.78L446.86 63.88Z" fill="#d62728"/>
<path d="M450.98 66.92L453.88 66.92L452.43 64.02Z" fill="#d62728"/>
<path d="M456.54 67.06L459.44 67.06L457.99 64.16Z" fill="#d62728"/>
<path d="M462.11 66.92L465 66.92L463.56 64.02Z" fill="#d62728"/>
<path d="M467.67 67.88L470.57 67.88L469.12 64.98Z" fill="#d62728"/>
<path d="M473.24 93.85L476.13 93.85L474.69 90.95Z" fill="#d62728"/>
<path d="M478.8 93.85L481.7 93.85L480.25 90.95Z" fill="#d62728"/>
<path d="M484.37 93.85L487.27 93.85L485.82 90.95Z" fill="#d62728"/>
<path d="M489.93 93.85L492.83 93.85L491.38 90.95Z" fill="#d62728"/>
<path d="M495.5 93.85L498.4 93.85L496.95 90.95Z" fill="#d62728"/>
<path d="M501.06 93.85L503.96 93.85L502.51 90.95Z" fill="#d62728"/>
<path d="M506.63 93.85L509.53 93.85L508.08 90.95Z" fill="#d62728"/>
<path d="M512.19 93.85L515.09 93.85L513.64 90.95Z" fill="#d62728"/>
<path d="M517.75 93.85L520.66 93.85L519.21 90.95Z" fill="#d62728"/>
<path d="M523.32 93.85L526.22 93.85L524.77 90.95Z" fill="#d62728"/>
<path d="M412.3 44.28L435.73 44.83L441.3 43.46L446.86 44.56L452.43 44.56L457.99 92.4L463.56 92.4L469.12 92.4L474.69 92.4L480.25 92.4L485.82 92.4L491.38 92.4L496.95 92.4L502.51 92.4L508.08 92.4L513.64 92.4L519.21 92.4L524.77 92.4" fill="none" stroke="#9467bd" stroke-width="1.15" stroke-linejoin="round"/>
<rect x="410.85" y="42.83" width="2.9" height="2.9" fill="#9467bd"/>
<rect x="434.28" y="43.38" width="2.9" height="2.9" fill="#9467bd"/>
<rect x="439.85" y="42.01" width="2.9" height="2.9" fill="#9467bd"/>
<rect x="445.41" y="43.11" width="2.9" height="2.9" fill="#9467bd"/>
<rect x="450.98" y="43.11" width="2.9" height="2.9" fill="#9467bd"/>
<rect x="456.54" y="90.95" width="2.9" height="2.9" fill="#9467bd"/>
<rect x="462.11" y="90.95" width="2.9" height="2.9" fill="#9467bd"/>
<rect x="467.67" y="90.95" width="2.9" height="2.9" fill="#9467bd"/>
<rect x="473.24" y="90.95" width="2.9" height="2.9" fill="#9467bd"/>
<rect x="478.8" y="90.95" width="2.9" height="2.9" fill="#9467bd"/>
<rect x="484.37" y="90.95" width="2.9" height="2.9" fill="#9467bd"/>
<rect x="489.93" y="90.95" width="2.9" height="2.9" fill="#9467bd"/>
<rect x="495.5" y="90.95" width="2.9" height="2.9" fill="#9467bd"/>
<rect x="501.06" y="90.95" width="2.9" height="2.9" fill="#9467bd"/>
<rect x="506.63" y="90.95" width="2.9" height="2.9" fill="#9467bd"/>
<rect x="512.19" y="90.95" width="2.9" height="2.9" fill="#9467bd"/>
<rect x="517.75" y="90.95" width="2.9" height="2.9" fill="#9467bd"/>
<rect x="523.32" y="90.95" width="2.9" height="2.9" fill="#9467bd"/>
<path d="M412.3 16.39L435.73 16.39L441.3 16.53L446.86 17.49L452.43 16.94L457.99 16.94L463.56 92.4L469.12 92.4L474.69 92.4L480.25 92.4L485.82 92.4L491.38 92.4L496.95 92.4L502.51 92.4L508.08 92.4L513.64 92.4L519.21 92.4L524.77 92.4" fill="none" stroke="#8c564b" stroke-width="1.15" stroke-linejoin="round"/>
<circle cx="412.3" cy="16.39" r="1.09" fill="#8c564b"/>
<circle cx="435.73" cy="16.39" r="1.09" fill="#8c564b"/>
<circle cx="441.3" cy="16.53" r="1.09" fill="#8c564b"/>
<circle cx="446.86" cy="17.49" r="1.09" fill="#8c564b"/>
<circle cx="452.43" cy="16.94" r="1.09" fill="#8c564b"/>
<circle cx="457.99" cy="16.94" r="1.09" fill="#8c564b"/>
<circle cx="463.56" cy="92.4" r="1.09" fill="#8c564b"/>
<circle cx="469.12" cy="92.4" r="1.09" fill="#8c564b"/>
<circle cx="474.69" cy="92.4" r="1.09" fill="#8c564b"/>
<circle cx="480.25" cy="92.4" r="1.09" fill="#8c564b"/>
<circle cx="485.82" cy="92.4" r="1.09" fill="#8c564b"/>
<circle cx="491.38" cy="92.4" r="1.09" fill="#8c564b"/>
<circle cx="496.95" cy="92.4" r="1.09" fill="#8c564b"/>
<circle cx="502.51" cy="92.4" r="1.09" fill="#8c564b"/>
<circle cx="508.08" cy="92.4" r="1.09" fill="#8c564b"/>
<circle cx="513.64" cy="92.4" r="1.09" fill="#8c564b"/>
<circle cx="519.21" cy="92.4" r="1.09" fill="#8c564b"/>
<circle cx="524.77" cy="92.4" r="1.09" fill="#8c564b"/>
<path d="M424.6 96.1L424.6 12.5" stroke="#000" stroke-width="1.25" stroke-dasharray="3.3 1.6" fill="none"/>
</g>
<rect x="406.6" y="12.5" width="129.4" height="83.6" fill="none" stroke="#222" stroke-width="0.5"/>
<path d="M412.3 96.1v2.1M424.6 96.1v2.1M446.86 96.1v2.1M469.12 96.1v2.1M491.38 96.1v2.1M513.64 96.1v2.1M535.9 96.1v2.1M406.6 92.4h-2.1M406.6 65.06h-2.1M406.6 37.72h-2.1" stroke="#000" stroke-width="0.55" fill="none"/>
<path d="M435.73 96.1v1.2M457.99 96.1v1.2M480.25 96.1v1.2M502.51 96.1v1.2M524.77 96.1v1.2" stroke="#000" stroke-width="0.4" stroke-opacity="0.6" fill="none"/>
<text x="412.6" y="104.4" text-anchor="middle" class="b" font-size="6.7">0</text>
<text x="424.9" y="104.4" text-anchor="middle" class="b" font-size="6.7">10<tspan dx="0.25" dy="-2.8" font-size="4.96">−5</tspan></text>
<text x="447.16" y="104.4" text-anchor="middle" class="b" font-size="6.7">10<tspan dx="0.25" dy="-2.8" font-size="4.96">−3</tspan></text>
<text x="469.42" y="104.4" text-anchor="middle" class="b" font-size="6.7">10<tspan dx="0.25" dy="-2.8" font-size="4.96">−1</tspan></text>
<text x="491.68" y="104.4" text-anchor="middle" class="b" font-size="6.7">10<tspan dx="0.25" dy="-2.8" font-size="4.96">1</tspan></text>
<text x="513.94" y="104.4" text-anchor="middle" class="b" font-size="6.7">10<tspan dx="0.25" dy="-2.8" font-size="4.96">3</tspan></text>
<text x="536.2" y="104.4" text-anchor="middle" class="b" font-size="6.7">10<tspan dx="0.25" dy="-2.8" font-size="4.96">5</tspan></text>
<text x="403.7" y="94.85" text-anchor="end" class="b" font-size="6.7">0</text>
<text x="403.7" y="67.51" text-anchor="end" class="b" font-size="6.7">200</text>
<text x="403.7" y="40.17" text-anchor="end" class="b" font-size="6.7">400</text>
<text x="471.3" y="10.7" text-anchor="middle" font-size="8.0">r=5</text>
<text x="471.8" y="112.6" text-anchor="middle" font-style="italic" font-size="7.3">λ</text>
<text transform="translate(385.7 54.3) rotate(-90)" text-anchor="middle" font-size="6.9">Mean (<tspan font-style="italic">y</tspan><tspan dx="2.1">−</tspan><tspan dx="0.7" font-style="italic">y</tspan><tspan dx="-3.2" dy="-1.8" font-size="5.6">ˆ</tspan><tspan dx="0.4" dy="1.8">)</tspan><tspan dx="0.4" dy="-2.6" font-size="4.83">2</tspan></text>
<rect x="477.5" y="15.2" width="55.8" height="65.2" rx="1.4" fill="#fff" fill-opacity="0.8" stroke="#ccc" stroke-width="0.6"/>
<path d="M480.2 21.9h14.4" stroke="#1f77b4" stroke-width="1.15" fill="none"/>
<path d="M486.24 20.74L488.56 23.06M486.24 23.06L488.56 20.74" stroke="#1f77b4" stroke-width="0.6" fill="none"/>
<text y="24.4" font-size="6.9"><tspan x="500.1" font-style="italic">η</tspan><tspan x="506">=</tspan><tspan x="513.1" class="b">0.0</tspan></text>
<path d="M480.2 32.35h14.4" stroke="#ff7f0e" stroke-width="1.15" fill="none"/>
<circle cx="487.4" cy="32.35" r="1.45" fill="#ff7f0e"/>
<text y="34.85" font-size="6.9"><tspan x="500.1" font-style="italic">η</tspan><tspan x="506">=</tspan><tspan x="513.1" class="b">4.0</tspan></text>
<path d="M480.2 42.8h14.4" stroke="#2ca02c" stroke-width="1.15" fill="none"/>
<path d="M485.95 41.35L488.85 41.35L487.4 44.25Z" fill="#2ca02c"/>
<text y="45.3" font-size="6.9"><tspan x="500.1" font-style="italic">η</tspan><tspan x="506">=</tspan><tspan x="513.1" class="b">8.0</tspan></text>
<path d="M480.2 53.25h14.4" stroke="#d62728" stroke-width="1.15" fill="none"/>
<path d="M485.95 54.7L488.85 54.7L487.4 51.8Z" fill="#d62728"/>
<text y="55.75" font-size="6.9"><tspan x="500.1" font-style="italic">η</tspan><tspan x="506">=</tspan><tspan x="513.1" class="b">12.0</tspan></text>
<path d="M480.2 63.7h14.4" stroke="#9467bd" stroke-width="1.15" fill="none"/>
<rect x="485.95" y="62.25" width="2.9" height="2.9" fill="#9467bd"/>
<text y="66.2" font-size="6.9"><tspan x="500.1" font-style="italic">η</tspan><tspan x="506">=</tspan><tspan x="513.1" class="b">16.0</tspan></text>
<path d="M480.2 74.15h14.4" stroke="#8c564b" stroke-width="1.15" fill="none"/>
<circle cx="487.4" cy="74.15" r="1.09" fill="#8c564b"/>
<text y="76.65" font-size="6.9"><tspan x="500.1" font-style="italic">η</tspan><tspan x="506">=</tspan><tspan x="513.1" class="b">20.0</tspan></text>
<text x="459.8" y="134.3" text-anchor="middle" font-family="'Liberation Serif','DejaVu Serif',serif" font-size="11.8" stroke="#000" stroke-width="0.3">(c)</text>
</g>
<g>
<clipPath id="cd"><rect x="32.4" y="162.3" width="129.6" height="83.5"/></clipPath>
<g clip-path="url(#cd)">
<path d="M37.6 216.5L61.38 214.5L66.97 213L72.56 219L78.15 220L83.74 219L89.33 214.5L94.92 216.7L117.28 237.9L122.87 241.1L134.05 242.1" fill="none" stroke="#1f77b4" stroke-width="1.15" stroke-linejoin="round"/>
<path d="M36.44 215.34L38.76 217.66M36.44 217.66L38.76 215.34" stroke="#1f77b4" stroke-width="0.6" fill="none"/>
<path d="M60.22 213.34L62.54 215.66M60.22 215.66L62.54 213.34" stroke="#1f77b4" stroke-width="0.6" fill="none"/>
<path d="M65.81 211.84L68.13 214.16M65.81 214.16L68.13 211.84" stroke="#1f77b4" stroke-width="0.6" fill="none"/>
<path d="M71.4 217.84L73.72 220.16M71.4 220.16L73.72 217.84" stroke="#1f77b4" stroke-width="0.6" fill="none"/>
<path d="M76.99 218.84L79.31 221.16M76.99 221.16L79.31 218.84" stroke="#1f77b4" stroke-width="0.6" fill="none"/>
<path d="M82.58 217.84L84.9 220.16M82.58 220.16L84.9 217.84" stroke="#1f77b4" stroke-width="0.6" fill="none"/>
<path d="M88.17 213.34L90.49 215.66M88.17 215.66L90.49 213.34" stroke="#1f77b4" stroke-width="0.6" fill="none"/>
<path d="M93.76 215.54L96.08 217.86M93.76 217.86L96.08 215.54" stroke="#1f77b4" stroke-width="0.6" fill="none"/>
<path d="M116.12 236.74L118.44 239.06M116.12 239.06L118.44 236.74" stroke="#1f77b4" stroke-width="0.6" fill="none"/>
<path d="M121.71 239.94L124.03 242.26M121.71 242.26L124.03 239.94" stroke="#1f77b4" stroke-width="0.6" fill="none"/>
<path d="M132.89 240.94L135.21 243.26M132.89 243.26L135.21 240.94" stroke="#1f77b4" stroke-width="0.6" fill="none"/>
<path d="M37.6 213.2L61.38 205.4L66.97 215.2L72.56 217.8L78.15 217L83.74 216L89.33 213.8L94.92 216.1L100.51 216.1L117.28 237.9L122.87 240.2L134.05 240.8" fill="none" stroke="#ff7f0e" stroke-width="1.9" stroke-opacity="0.33" stroke-linejoin="round"/>
<path d="M37.6 213.2L61.38 205.4L66.97 215.2L72.56 217.8L78.15 217L83.74 216L89.33 213.8L94.92 216.1L100.51 216.1L117.28 237.9L122.87 240.2L134.05 240.8" fill="none" stroke="#ff7f0e" stroke-width="1.15" stroke-linejoin="round"/>
<circle cx="37.6" cy="213.2" r="1.45" fill="#ff7f0e"/>
<circle cx="61.38" cy="205.4" r="1.45" fill="#ff7f0e"/>
<circle cx="66.97" cy="215.2" r="1.45" fill="#ff7f0e"/>
<circle cx="72.56" cy="217.8" r="1.45" fill="#ff7f0e"/>
<circle cx="78.15" cy="217" r="1.45" fill="#ff7f0e"/>
<circle cx="83.74" cy="216" r="1.45" fill="#ff7f0e"/>
<circle cx="89.33" cy="213.8" r="1.45" fill="#ff7f0e"/>
<circle cx="94.92" cy="216.1" r="1.45" fill="#ff7f0e"/>
<circle cx="100.51" cy="216.1" r="1.45" fill="#ff7f0e"/>
<circle cx="117.28" cy="237.9" r="1.45" fill="#ff7f0e"/>
<circle cx="122.87" cy="240.2" r="1.45" fill="#ff7f0e"/>
<circle cx="134.05" cy="240.8" r="1.45" fill="#ff7f0e"/>
<path d="M37.6 210L61.38 202.8L66.97 200.9L72.56 207.4L78.15 210L83.74 211.3L89.33 204.8L94.92 206.3L100.51 209.7L111.69 225.1L139.64 229.8" fill="none" stroke="#2ca02c" stroke-width="1.15" stroke-linejoin="round"/>
<path d="M36.15 208.55L39.05 208.55L37.6 211.45Z" fill="#2ca02c"/>
<path d="M59.93 201.35L62.83 201.35L61.38 204.25Z" fill="#2ca02c"/>
<path d="M65.52 199.45L68.42 199.45L66.97 202.35Z" fill="#2ca02c"/>
<path d="M71.11 205.95L74.01 205.95L72.56 208.85Z" fill="#2ca02c"/>
<path d="M76.7 208.55L79.6 208.55L78.15 211.45Z" fill="#2ca02c"/>
<path d="M82.29 209.85L85.19 209.85L83.74 212.75Z" fill="#2ca02c"/>
<path d="M87.88 203.35L90.78 203.35L89.33 206.25Z" fill="#2ca02c"/>
<path d="M93.47 204.85L96.37 204.85L94.92 207.75Z" fill="#2ca02c"/>
<path d="M99.06 208.25L101.96 208.25L100.51 211.15Z" fill="#2ca02c"/>
<path d="M110.24 223.65L113.14 223.65L111.69 226.55Z" fill="#2ca02c"/>
<path d="M138.19 228.35L141.09 228.35L139.64 231.25Z" fill="#2ca02c"/>
<path d="M37.6 196.5L61.38 192.6L66.97 197.8L72.56 196.5L78.15 199L83.74 197.1L89.33 199.9L94.92 200.6L100.51 200.8" fill="none" stroke="#d62728" stroke-width="1.9" stroke-opacity="0.33" stroke-linejoin="round"/>
<path d="M37.6 196.5L61.38 192.6L66.97 197.8L72.56 196.5L78.15 199L83.74 197.1L89.33 199.9L94.92 200.6L100.51 200.8" fill="none" stroke="#d62728" stroke-width="1.15" stroke-linejoin="round"/>
<path d="M36.15 197.95L39.05 197.95L37.6 195.05Z" fill="#d62728"/>
<path d="M59.93 194.05L62.83 194.05L61.38 191.15Z" fill="#d62728"/>
<path d="M65.52 199.25L68.42 199.25L66.97 196.35Z" fill="#d62728"/>
<path d="M71.11 197.95L74.01 197.95L72.56 195.05Z" fill="#d62728"/>
<path d="M76.7 200.45L79.6 200.45L78.15 197.55Z" fill="#d62728"/>
<path d="M82.29 198.55L85.19 198.55L83.74 195.65Z" fill="#d62728"/>
<path d="M87.88 201.35L90.78 201.35L89.33 198.45Z" fill="#d62728"/>
<path d="M93.47 202.05L96.37 202.05L94.92 199.15Z" fill="#d62728"/>
<path d="M99.06 202.25L101.96 202.25L100.51 199.35Z" fill="#d62728"/>
<path d="M37.6 188L61.38 184.1L66.97 188L72.56 187.4L78.15 186L83.74 187.4L89.33 188.6L94.92 182.4L100.51 187.7" fill="none" stroke="#9467bd" stroke-width="1.15" stroke-linejoin="round"/>
<rect x="36.15" y="186.55" width="2.9" height="2.9" fill="#9467bd"/>
<rect x="59.93" y="182.65" width="2.9" height="2.9" fill="#9467bd"/>
<rect x="65.52" y="186.55" width="2.9" height="2.9" fill="#9467bd"/>
<rect x="71.11" y="185.95" width="2.9" height="2.9" fill="#9467bd"/>
<rect x="76.7" y="184.55" width="2.9" height="2.9" fill="#9467bd"/>
<rect x="82.29" y="185.95" width="2.9" height="2.9" fill="#9467bd"/>
<rect x="87.88" y="187.15" width="2.9" height="2.9" fill="#9467bd"/>
<rect x="93.47" y="180.95" width="2.9" height="2.9" fill="#9467bd"/>
<rect x="99.06" y="186.25" width="2.9" height="2.9" fill="#9467bd"/>
<path d="M37.6 167.3L61.38 167.9L66.97 171.7L72.56 167.5L78.15 173.5L83.74 167.9L89.33 169.4L94.92 174.1L100.51 166L106.1 170.7L117.28 200.8L122.87 202.7" fill="none" stroke="#8c564b" stroke-width="1.15" stroke-linejoin="round"/>
<circle cx="37.6" cy="167.3" r="1.09" fill="#8c564b"/>
<circle cx="61.38" cy="167.9" r="1.09" fill="#8c564b"/>
<circle cx="66.97" cy="171.7" r="1.09" fill="#8c564b"/>
<circle cx="72.56" cy="167.5" r="1.09" fill="#8c564b"/>
<circle cx="78.15" cy="173.5" r="1.09" fill="#8c564b"/>
<circle cx="83.74" cy="167.9" r="1.09" fill="#8c564b"/>
<circle cx="89.33" cy="169.4" r="1.09" fill="#8c564b"/>
<circle cx="94.92" cy="174.1" r="1.09" fill="#8c564b"/>
<circle cx="100.51" cy="166" r="1.09" fill="#8c564b"/>
<circle cx="106.1" cy="170.7" r="1.09" fill="#8c564b"/>
<circle cx="117.28" cy="200.8" r="1.09" fill="#8c564b"/>
<circle cx="122.87" cy="202.7" r="1.09" fill="#8c564b"/>
<path d="M50.2 245.8L50.2 162.3" stroke="#000" stroke-width="1.15" stroke-dasharray="1 1.6 4.1 1.5 3.4 1.8" stroke-dashoffset="12.3" fill="none"/>
</g>
<rect x="32.4" y="162.3" width="129.6" height="83.5" fill="none" stroke="#222" stroke-width="0.5"/>
<path d="M37.6 245.8v2.1M50.2 245.8v2.1M72.56 245.8v2.1M94.92 245.8v2.1M117.28 245.8v2.1M139.64 245.8v2.1M162 245.8v2.1M32.4 242.7h-2.1M32.4 216.76h-2.1M32.4 190.82h-2.1M32.4 164.88h-2.1" stroke="#000" stroke-width="0.55" fill="none"/>
<path d="M61.38 245.8v1.2M83.74 245.8v1.2M106.1 245.8v1.2M128.46 245.8v1.2M150.82 245.8v1.2" stroke="#000" stroke-width="0.4" stroke-opacity="0.6" fill="none"/>
<text x="37.9" y="254.1" text-anchor="middle" class="b" font-size="6.7">0</text>
<text x="50.5" y="254.1" text-anchor="middle" class="b" font-size="6.7">10<tspan dx="0.25" dy="-2.8" font-size="4.96">−5</tspan></text>
<text x="72.86" y="254.1" text-anchor="middle" class="b" font-size="6.7">10<tspan dx="0.25" dy="-2.8" font-size="4.96">−3</tspan></text>
<text x="95.22" y="254.1" text-anchor="middle" class="b" font-size="6.7">10<tspan dx="0.25" dy="-2.8" font-size="4.96">−1</tspan></text>
<text x="117.58" y="254.1" text-anchor="middle" class="b" font-size="6.7">10<tspan dx="0.25" dy="-2.8" font-size="4.96">1</tspan></text>
<text x="139.94" y="254.1" text-anchor="middle" class="b" font-size="6.7">10<tspan dx="0.25" dy="-2.8" font-size="4.96">3</tspan></text>
<text x="162.3" y="254.1" text-anchor="middle" class="b" font-size="6.7">10<tspan dx="0.25" dy="-2.8" font-size="4.96">5</tspan></text>
<text x="29.5" y="245.15" text-anchor="end" class="b" font-size="6.7">0</text>
<text x="29.5" y="219.21" text-anchor="end" class="b" font-size="6.7">200</text>
<text x="29.5" y="193.27" text-anchor="end" class="b" font-size="6.7">400</text>
<text x="29.5" y="167.33" text-anchor="end" class="b" font-size="6.7">600</text>
<text x="97.2" y="160.5" text-anchor="middle" font-size="8.0">r=3</text>
<text x="97.7" y="262.3" text-anchor="middle" font-style="italic" font-size="7.3">λ</text>
<text transform="translate(11.3 204.05) rotate(-90)" text-anchor="middle" font-size="6.9">Mean (<tspan font-style="italic">y</tspan><tspan dx="2.1">−</tspan><tspan dx="0.7" font-style="italic">y</tspan><tspan dx="-3.2" dy="-1.8" font-size="5.6">ˆ</tspan><tspan dx="0.4" dy="1.8">)</tspan><tspan dx="0.4" dy="-2.6" font-size="4.83">2</tspan></text>
<rect x="35.1" y="176.8" width="55.8" height="65.2" rx="1.4" fill="#fff" fill-opacity="0.8" stroke="#ccc" stroke-width="0.6"/>
<path d="M37.8 183.5h14.4" stroke="#1f77b4" stroke-width="1.15" fill="none"/>
<path d="M43.84 182.34L46.16 184.66M43.84 184.66L46.16 182.34" stroke="#1f77b4" stroke-width="0.6" fill="none"/>
<text y="186" font-size="6.9"><tspan x="57.7" font-style="italic">η</tspan><tspan x="63.6">=</tspan><tspan x="70.7" class="b">0.0</tspan></text>
<path d="M37.8 193.95h14.4" stroke="#ff7f0e" stroke-width="2.1" stroke-opacity="0.42" fill="none"/>
<path d="M37.8 193.95h14.4" stroke="#ff7f0e" stroke-width="1.15" fill="none"/>
<circle cx="45" cy="193.95" r="1.45" fill="#ff7f0e"/>
<text y="196.45" font-size="6.9"><tspan x="57.7" font-style="italic">η</tspan><tspan x="63.6">=</tspan><tspan x="70.7" class="b">4.0</tspan></text>
<path d="M37.8 204.4h14.4" stroke="#2ca02c" stroke-width="1.15" fill="none"/>
<path d="M43.55 202.95L46.45 202.95L45 205.85Z" fill="#2ca02c"/>
<text y="206.9" font-size="6.9"><tspan x="57.7" font-style="italic">η</tspan><tspan x="63.6">=</tspan><tspan x="70.7" class="b">8.0</tspan></text>
<path d="M37.8 214.85h14.4" stroke="#d62728" stroke-width="2.1" stroke-opacity="0.42" fill="none"/>
<path d="M37.8 214.85h14.4" stroke="#d62728" stroke-width="1.15" fill="none"/>
<path d="M43.55 216.3L46.45 216.3L45 213.4Z" fill="#d62728"/>
<text y="217.35" font-size="6.9"><tspan x="57.7" font-style="italic">η</tspan><tspan x="63.6">=</tspan><tspan x="70.7" class="b">12.0</tspan></text>
<path d="M37.8 225.3h14.4" stroke="#9467bd" stroke-width="1.15" fill="none"/>
<rect x="43.55" y="223.85" width="2.9" height="2.9" fill="#9467bd"/>
<text y="227.8" font-size="6.9"><tspan x="57.7" font-style="italic">η</tspan><tspan x="63.6">=</tspan><tspan x="70.7" class="b">16.0</tspan></text>
<path d="M37.8 235.75h14.4" stroke="#8c564b" stroke-width="2.1" stroke-opacity="0.42" fill="none"/>
<path d="M37.8 235.75h14.4" stroke="#8c564b" stroke-width="1.15" fill="none"/>
<circle cx="45" cy="235.75" r="1.09" fill="#8c564b"/>
<text y="238.25" font-size="6.9"><tspan x="57.7" font-style="italic">η</tspan><tspan x="63.6">=</tspan><tspan x="70.7" class="b">20.0</tspan></text>
<text x="85.1" y="284.1" text-anchor="middle" font-family="'Liberation Serif','DejaVu Serif',serif" font-size="11.8" stroke="#000" stroke-width="0.3">(d)</text>
</g>
<g>
<clipPath id="ce"><rect x="203.7" y="162.3" width="130.3" height="83.5"/></clipPath>
<g clip-path="url(#ce)">
<path d="M209.5 242.6L232.65 242.6L238.28 242.6L243.9 242.6L249.53 242.6L255.15 242.6L260.77 242.6L266.4 242.6L272.02 242.6" fill="none" stroke="#1f77b4" stroke-width="1.15" stroke-linejoin="round"/>
<path d="M208.34 241.44L210.66 243.76M208.34 243.76L210.66 241.44" stroke="#1f77b4" stroke-width="0.6" fill="none"/>
<path d="M231.49 241.44L233.81 243.76M231.49 243.76L233.81 241.44" stroke="#1f77b4" stroke-width="0.6" fill="none"/>
<path d="M237.12 241.44L239.44 243.76M237.12 243.76L239.44 241.44" stroke="#1f77b4" stroke-width="0.6" fill="none"/>
<path d="M242.74 241.44L245.06 243.76M242.74 243.76L245.06 241.44" stroke="#1f77b4" stroke-width="0.6" fill="none"/>
<path d="M248.37 241.44L250.69 243.76M248.37 243.76L250.69 241.44" stroke="#1f77b4" stroke-width="0.6" fill="none"/>
<path d="M253.99 241.44L256.31 243.76M253.99 243.76L256.31 241.44" stroke="#1f77b4" stroke-width="0.6" fill="none"/>
<path d="M259.61 241.44L261.94 243.76M259.61 243.76L261.94 241.44" stroke="#1f77b4" stroke-width="0.6" fill="none"/>
<path d="M265.24 241.44L267.56 243.76M265.24 243.76L267.56 241.44" stroke="#1f77b4" stroke-width="0.6" fill="none"/>
<path d="M270.86 241.44L273.19 243.76M270.86 243.76L273.19 241.44" stroke="#1f77b4" stroke-width="0.6" fill="none"/>
<path d="M209.5 239.4L232.65 238.7L238.28 239.6L243.9 239.6L249.53 239.6L255.15 239.6L260.77 239.7L266.4 239.5L272.02 239.5L277.65 239.4L283.27 239.3L305.77 239.9" fill="none" stroke="#ff7f0e" stroke-width="1.15" stroke-linejoin="round"/>
<circle cx="209.5" cy="239.4" r="1.45" fill="#ff7f0e"/>
<circle cx="232.65" cy="238.7" r="1.45" fill="#ff7f0e"/>
<circle cx="238.28" cy="239.6" r="1.45" fill="#ff7f0e"/>
<circle cx="243.9" cy="239.6" r="1.45" fill="#ff7f0e"/>
<circle cx="249.53" cy="239.6" r="1.45" fill="#ff7f0e"/>
<circle cx="255.15" cy="239.6" r="1.45" fill="#ff7f0e"/>
<circle cx="260.77" cy="239.7" r="1.45" fill="#ff7f0e"/>
<circle cx="266.4" cy="239.5" r="1.45" fill="#ff7f0e"/>
<circle cx="272.02" cy="239.5" r="1.45" fill="#ff7f0e"/>
<circle cx="277.65" cy="239.4" r="1.45" fill="#ff7f0e"/>
<circle cx="283.27" cy="239.3" r="1.45" fill="#ff7f0e"/>
<circle cx="305.77" cy="239.9" r="1.45" fill="#ff7f0e"/>
<path d="M209.5 230.4L232.65 230.3L238.28 230.4L243.9 230.4L249.53 230.4L255.15 230.5L260.77 228.9L266.4 230.4L272.02 230.2L288.9 230.8" fill="none" stroke="#2ca02c" stroke-width="1.15" stroke-linejoin="round"/>
<path d="M208.05 228.95L210.95 228.95L209.5 231.85Z" fill="#2ca02c"/>
<path d="M231.2 228.85L234.1 228.85L232.65 231.75Z" fill="#2ca02c"/>
<path d="M236.83 228.95L239.72 228.95L238.28 231.85Z" fill="#2ca02c"/>
<path d="M242.45 228.95L245.35 228.95L243.9 231.85Z" fill="#2ca02c"/>
<path d="M248.08 228.95L250.97 228.95L249.53 231.85Z" fill="#2ca02c"/>
<path d="M253.7 229.05L256.6 229.05L255.15 231.95Z" fill="#2ca02c"/>
<path d="M259.32 227.45L262.22 227.45L260.77 230.35Z" fill="#2ca02c"/>
<path d="M264.95 228.95L267.85 228.95L266.4 231.85Z" fill="#2ca02c"/>
<path d="M270.57 228.75L273.47 228.75L272.02 231.65Z" fill="#2ca02c"/>
<path d="M287.45 229.35L290.35 229.35L288.9 232.25Z" fill="#2ca02c"/>
<path d="M209.5 216.3L232.65 216.3L238.28 217.6L243.9 214.4L249.53 216.7L255.15 218L260.77 216.3L266.4 216.3L272.02 216.3L283.27 216.6" fill="none" stroke="#d62728" stroke-width="1.15" stroke-linejoin="round"/>
<path d="M208.05 217.75L210.95 217.75L209.5 214.85Z" fill="#d62728"/>
<path d="M231.2 217.75L234.1 217.75L232.65 214.85Z" fill="#d62728"/>
<path d="M236.83 219.05L239.72 219.05L238.28 216.15Z" fill="#d62728"/>
<path d="M242.45 215.85L245.35 215.85L243.9 212.95Z" fill="#d62728"/>
<path d="M248.08 218.15L250.97 218.15L249.53 215.25Z" fill="#d62728"/>
<path d="M253.7 219.45L256.6 219.45L255.15 216.55Z" fill="#d62728"/>
<path d="M259.32 217.75L262.22 217.75L260.77 214.85Z" fill="#d62728"/>
<path d="M264.95 217.75L267.85 217.75L266.4 214.85Z" fill="#d62728"/>
<path d="M270.57 217.75L273.47 217.75L272.02 214.85Z" fill="#d62728"/>
<path d="M281.82 218.05L284.72 218.05L283.27 215.15Z" fill="#d62728"/>
<path d="M209.5 193.9L232.65 197.1L238.28 195.6L243.9 194.3L249.53 194.6L255.15 196.1L260.77 196.5L277.65 193" fill="none" stroke="#9467bd" stroke-width="1.15" stroke-linejoin="round"/>
<rect x="208.05" y="192.45" width="2.9" height="2.9" fill="#9467bd"/>
<rect x="231.2" y="195.65" width="2.9" height="2.9" fill="#9467bd"/>
<rect x="236.83" y="194.15" width="2.9" height="2.9" fill="#9467bd"/>
<rect x="242.45" y="192.85" width="2.9" height="2.9" fill="#9467bd"/>
<rect x="248.08" y="193.15" width="2.9" height="2.9" fill="#9467bd"/>
<rect x="253.7" y="194.65" width="2.9" height="2.9" fill="#9467bd"/>
<rect x="259.32" y="195.05" width="2.9" height="2.9" fill="#9467bd"/>
<rect x="276.2" y="191.55" width="2.9" height="2.9" fill="#9467bd"/>
<path d="M209.5 169.8L232.65 168.8L238.28 170.3L243.9 166L249.53 169.4L255.15 170.3L260.77 169.8" fill="none" stroke="#8c564b" stroke-width="1.15" stroke-linejoin="round"/>
<circle cx="209.5" cy="169.8" r="1.09" fill="#8c564b"/>
<circle cx="232.65" cy="168.8" r="1.09" fill="#8c564b"/>
<circle cx="238.28" cy="170.3" r="1.09" fill="#8c564b"/>
<circle cx="243.9" cy="166" r="1.09" fill="#8c564b"/>
<circle cx="249.53" cy="169.4" r="1.09" fill="#8c564b"/>
<circle cx="255.15" cy="170.3" r="1.09" fill="#8c564b"/>
<circle cx="260.77" cy="169.8" r="1.09" fill="#8c564b"/>
<path d="M221.4 245.8L221.4 162.3" stroke="#000" stroke-width="1.25" stroke-dasharray="3.3 1.6" fill="none"/>
</g>
<rect x="203.7" y="162.3" width="130.3" height="83.5" fill="none" stroke="#222" stroke-width="0.5"/>
<path d="M209.5 245.8v2.1M221.4 245.8v2.1M243.9 245.8v2.1M266.4 245.8v2.1M288.9 245.8v2.1M311.4 245.8v2.1M333.9 245.8v2.1M203.7 242.6h-2.1M203.7 223h-2.1M203.7 203.4h-2.1M203.7 183.8h-2.1M203.7 164.2h-2.1" stroke="#000" stroke-width="0.55" fill="none"/>
<path d="M232.65 245.8v1.2M255.15 245.8v1.2M277.65 245.8v1.2M300.15 245.8v1.2M322.65 245.8v1.2" stroke="#000" stroke-width="0.4" stroke-opacity="0.6" fill="none"/>
<text x="209.8" y="254.1" text-anchor="middle" class="b" font-size="6.7">0</text>
<text x="221.7" y="254.1" text-anchor="middle" class="b" font-size="6.7">10<tspan dx="0.25" dy="-2.8" font-size="4.96">−5</tspan></text>
<text x="244.2" y="254.1" text-anchor="middle" class="b" font-size="6.7">10<tspan dx="0.25" dy="-2.8" font-size="4.96">−3</tspan></text>
<text x="266.7" y="254.1" text-anchor="middle" class="b" font-size="6.7">10<tspan dx="0.25" dy="-2.8" font-size="4.96">−1</tspan></text>
<text x="289.2" y="254.1" text-anchor="middle" class="b" font-size="6.7">10<tspan dx="0.25" dy="-2.8" font-size="4.96">1</tspan></text>
<text x="311.7" y="254.1" text-anchor="middle" class="b" font-size="6.7">10<tspan dx="0.25" dy="-2.8" font-size="4.96">3</tspan></text>
<text x="334.2" y="254.1" text-anchor="middle" class="b" font-size="6.7">10<tspan dx="0.25" dy="-2.8" font-size="4.96">5</tspan></text>
<text x="200.8" y="245.05" text-anchor="end" class="b" font-size="6.7">0</text>
<text x="200.8" y="225.45" text-anchor="end" class="b" font-size="6.7">100</text>
<text x="200.8" y="205.85" text-anchor="end" class="b" font-size="6.7">200</text>
<text x="200.8" y="186.25" text-anchor="end" class="b" font-size="6.7">300</text>
<text x="200.8" y="166.65" text-anchor="end" class="b" font-size="6.7">400</text>
<text x="268.85" y="160.5" text-anchor="middle" font-size="8.0">r=4</text>
<text x="269.35" y="262.3" text-anchor="middle" font-style="italic" font-size="7.3">λ</text>
<text transform="translate(182.8 204.05) rotate(-90)" text-anchor="middle" font-size="6.9">Mean (<tspan font-style="italic">y</tspan><tspan dx="2.1">−</tspan><tspan dx="0.7" font-style="italic">y</tspan><tspan dx="-3.2" dy="-1.8" font-size="5.6">ˆ</tspan><tspan dx="0.4" dy="1.8">)</tspan><tspan dx="0.4" dy="-2.6" font-size="4.83">2</tspan></text>
<rect x="274.6" y="165" width="55.8" height="65.2" rx="1.4" fill="#fff" fill-opacity="0.8" stroke="#ccc" stroke-width="0.6"/>
<path d="M277.3 171.7h14.4" stroke="#1f77b4" stroke-width="1.15" fill="none"/>
<path d="M283.34 170.54L285.66 172.86M283.34 172.86L285.66 170.54" stroke="#1f77b4" stroke-width="0.6" fill="none"/>
<text y="174.2" font-size="6.9"><tspan x="297.2" font-style="italic">η</tspan><tspan x="303.1">=</tspan><tspan x="310.2" class="b">0.0</tspan></text>
<path d="M277.3 182.15h14.4" stroke="#ff7f0e" stroke-width="1.15" fill="none"/>
<circle cx="284.5" cy="182.15" r="1.45" fill="#ff7f0e"/>
<text y="184.65" font-size="6.9"><tspan x="297.2" font-style="italic">η</tspan><tspan x="303.1">=</tspan><tspan x="310.2" class="b">4.0</tspan></text>
<path d="M277.3 192.6h14.4" stroke="#2ca02c" stroke-width="1.15" fill="none"/>
<path d="M283.05 191.15L285.95 191.15L284.5 194.05Z" fill="#2ca02c"/>
<text y="195.1" font-size="6.9"><tspan x="297.2" font-style="italic">η</tspan><tspan x="303.1">=</tspan><tspan x="310.2" class="b">8.0</tspan></text>
<path d="M277.3 203.05h14.4" stroke="#d62728" stroke-width="1.15" fill="none"/>
<path d="M283.05 204.5L285.95 204.5L284.5 201.6Z" fill="#d62728"/>
<text y="205.55" font-size="6.9"><tspan x="297.2" font-style="italic">η</tspan><tspan x="303.1">=</tspan><tspan x="310.2" class="b">12.0</tspan></text>
<path d="M277.3 213.5h14.4" stroke="#9467bd" stroke-width="1.15" fill="none"/>
<rect x="283.05" y="212.05" width="2.9" height="2.9" fill="#9467bd"/>
<text y="216" font-size="6.9"><tspan x="297.2" font-style="italic">η</tspan><tspan x="303.1">=</tspan><tspan x="310.2" class="b">16.0</tspan></text>
<path d="M277.3 223.95h14.4" stroke="#8c564b" stroke-width="1.15" fill="none"/>
<circle cx="284.5" cy="223.95" r="1.09" fill="#8c564b"/>
<text y="226.45" font-size="6.9"><tspan x="297.2" font-style="italic">η</tspan><tspan x="303.1">=</tspan><tspan x="310.2" class="b">20.0</tspan></text>
<text x="257" y="284.1" text-anchor="middle" font-family="'Liberation Serif','DejaVu Serif',serif" font-size="11.8" stroke="#000" stroke-width="0.3">(e)</text>
</g>
<g>
<clipPath id="cf"><rect x="375.7" y="162.3" width="129.8" height="83.5"/></clipPath>
<g clip-path="url(#cf)">
<path d="M378.7 242.5L402.72 242.5L408.43 242.5L414.14 242.5" fill="none" stroke="#1f77b4" stroke-width="1.15" stroke-linejoin="round"/>
<path d="M377.54 241.34L379.86 243.66M377.54 243.66L379.86 241.34" stroke="#1f77b4" stroke-width="0.6" fill="none"/>
<path d="M401.56 241.34L403.88 243.66M401.56 243.66L403.88 241.34" stroke="#1f77b4" stroke-width="0.6" fill="none"/>
<path d="M407.27 241.34L409.59 243.66M407.27 243.66L409.59 241.34" stroke="#1f77b4" stroke-width="0.6" fill="none"/>
<path d="M412.98 241.34L415.3 243.66M412.98 243.66L415.3 241.34" stroke="#1f77b4" stroke-width="0.6" fill="none"/>
<path d="M378.7 237.4L402.72 239.6L408.43 237L414.14 237.7L419.85 238.7L425.56 240.2L431.27 237.9" fill="none" stroke="#ff7f0e" stroke-width="1.15" stroke-linejoin="round"/>
<circle cx="378.7" cy="237.4" r="1.45" fill="#ff7f0e"/>
<circle cx="402.72" cy="239.6" r="1.45" fill="#ff7f0e"/>
<circle cx="408.43" cy="237" r="1.45" fill="#ff7f0e"/>
<circle cx="414.14" cy="237.7" r="1.45" fill="#ff7f0e"/>
<circle cx="419.85" cy="238.7" r="1.45" fill="#ff7f0e"/>
<circle cx="425.56" cy="240.2" r="1.45" fill="#ff7f0e"/>
<circle cx="431.27" cy="237.9" r="1.45" fill="#ff7f0e"/>
<path d="M378.7 230.2L402.72 230.4L408.43 230.4L414.14 229.5L419.85 230L425.56 229.7L431.27 228.5" fill="none" stroke="#2ca02c" stroke-width="1.15" stroke-linejoin="round"/>
<path d="M377.25 228.75L380.15 228.75L378.7 231.65Z" fill="#2ca02c"/>
<path d="M401.27 228.95L404.17 228.95L402.72 231.85Z" fill="#2ca02c"/>
<path d="M406.98 228.95L409.88 228.95L408.43 231.85Z" fill="#2ca02c"/>
<path d="M412.69 228.05L415.59 228.05L414.14 230.95Z" fill="#2ca02c"/>
<path d="M418.4 228.55L421.3 228.55L419.85 231.45Z" fill="#2ca02c"/>
<path d="M424.11 228.25L427.01 228.25L425.56 231.15Z" fill="#2ca02c"/>
<path d="M429.82 227.05L432.72 227.05L431.27 229.95Z" fill="#2ca02c"/>
<path d="M378.7 214.4L402.72 217.6L408.43 215.3L414.14 217.6L419.85 217.6L425.56 218.2L431.27 219.9L436.98 213.3" fill="none" stroke="#d62728" stroke-width="1.15" stroke-linejoin="round"/>
<path d="M377.25 215.85L380.15 215.85L378.7 212.95Z" fill="#d62728"/>
<path d="M401.27 219.05L404.17 219.05L402.72 216.15Z" fill="#d62728"/>
<path d="M406.98 216.75L409.88 216.75L408.43 213.85Z" fill="#d62728"/>
<path d="M412.69 219.05L415.59 219.05L414.14 216.15Z" fill="#d62728"/>
<path d="M418.4 219.05L421.3 219.05L419.85 216.15Z" fill="#d62728"/>
<path d="M424.11 219.65L427.01 219.65L425.56 216.75Z" fill="#d62728"/>
<path d="M429.82 221.35L432.72 221.35L431.27 218.45Z" fill="#d62728"/>
<path d="M435.53 214.75L438.43 214.75L436.98 211.85Z" fill="#d62728"/>
<path d="M378.7 187.1L402.72 192.9L408.43 196.1L414.14 198L419.85 195.6" fill="none" stroke="#9467bd" stroke-width="1.15" stroke-linejoin="round"/>
<rect x="377.25" y="185.65" width="2.9" height="2.9" fill="#9467bd"/>
<rect x="401.27" y="191.45" width="2.9" height="2.9" fill="#9467bd"/>
<rect x="406.98" y="194.65" width="2.9" height="2.9" fill="#9467bd"/>
<rect x="412.69" y="196.55" width="2.9" height="2.9" fill="#9467bd"/>
<rect x="418.4" y="194.15" width="2.9" height="2.9" fill="#9467bd"/>
<path d="M378.7 168.3L402.72 171.7L408.43 167.5L414.14 167.9L419.85 169.8L425.56 166" fill="none" stroke="#8c564b" stroke-width="1.15" stroke-linejoin="round"/>
<circle cx="378.7" cy="168.3" r="1.09" fill="#8c564b"/>
<circle cx="402.72" cy="171.7" r="1.09" fill="#8c564b"/>
<circle cx="408.43" cy="167.5" r="1.09" fill="#8c564b"/>
<circle cx="414.14" cy="167.9" r="1.09" fill="#8c564b"/>
<circle cx="419.85" cy="169.8" r="1.09" fill="#8c564b"/>
<circle cx="425.56" cy="166" r="1.09" fill="#8c564b"/>
<path d="M391.3 245.8L391.3 162.3" stroke="#000" stroke-width="1.25" stroke-dasharray="3.3 1.6" fill="none"/>
</g>
<rect x="375.7" y="162.3" width="129.8" height="83.5" fill="none" stroke="#222" stroke-width="0.5"/>
<path d="M378.7 245.8v2.1M391.3 245.8v2.1M414.14 245.8v2.1M436.98 245.8v2.1M459.82 245.8v2.1M482.66 245.8v2.1M505.5 245.8v2.1M375.7 242.5h-2.1M375.7 216.3h-2.1M375.7 190.1h-2.1M375.7 163.9h-2.1" stroke="#000" stroke-width="0.55" fill="none"/>
<path d="M402.72 245.8v1.2M425.56 245.8v1.2M448.4 245.8v1.2M471.24 245.8v1.2M494.08 245.8v1.2" stroke="#000" stroke-width="0.4" stroke-opacity="0.6" fill="none"/>
<text x="379" y="254.1" text-anchor="middle" class="b" font-size="6.7">0</text>
<text x="391.6" y="254.1" text-anchor="middle" class="b" font-size="6.7">10<tspan dx="0.25" dy="-2.8" font-size="4.96">−5</tspan></text>
<text x="414.44" y="254.1" text-anchor="middle" class="b" font-size="6.7">10<tspan dx="0.25" dy="-2.8" font-size="4.96">−3</tspan></text>
<text x="437.28" y="254.1" text-anchor="middle" class="b" font-size="6.7">10<tspan dx="0.25" dy="-2.8" font-size="4.96">−1</tspan></text>
<text x="460.12" y="254.1" text-anchor="middle" class="b" font-size="6.7">10<tspan dx="0.25" dy="-2.8" font-size="4.96">1</tspan></text>
<text x="482.96" y="254.1" text-anchor="middle" class="b" font-size="6.7">10<tspan dx="0.25" dy="-2.8" font-size="4.96">3</tspan></text>
<text x="505.8" y="254.1" text-anchor="middle" class="b" font-size="6.7">10<tspan dx="0.25" dy="-2.8" font-size="4.96">5</tspan></text>
<text x="372.8" y="244.95" text-anchor="end" class="b" font-size="6.7">0</text>
<text x="372.8" y="218.75" text-anchor="end" class="b" font-size="6.7">200</text>
<text x="372.8" y="192.55" text-anchor="end" class="b" font-size="6.7">400</text>
<text x="372.8" y="166.35" text-anchor="end" class="b" font-size="6.7">600</text>
<text x="440.6" y="160.5" text-anchor="middle" font-size="8.0">r=5</text>
<text x="441.1" y="262.3" text-anchor="middle" font-style="italic" font-size="7.3">λ</text>
<text transform="translate(355.2 204.05) rotate(-90)" text-anchor="middle" font-size="6.9">Mean (<tspan font-style="italic">y</tspan><tspan dx="2.1">−</tspan><tspan dx="0.7" font-style="italic">y</tspan><tspan dx="-3.2" dy="-1.8" font-size="5.6">ˆ</tspan><tspan dx="0.4" dy="1.8">)</tspan><tspan dx="0.4" dy="-2.6" font-size="4.83">2</tspan></text>
<rect x="446.8" y="165" width="55.8" height="65.2" rx="1.4" fill="#fff" fill-opacity="0.8" stroke="#ccc" stroke-width="0.6"/>
<path d="M449.5 171.7h14.4" stroke="#1f77b4" stroke-width="1.15" fill="none"/>
<path d="M455.54 170.54L457.86 172.86M455.54 172.86L457.86 170.54" stroke="#1f77b4" stroke-width="0.6" fill="none"/>
<text y="174.2" font-size="6.9"><tspan x="469.4" font-style="italic">η</tspan><tspan x="475.3">=</tspan><tspan x="482.4" class="b">0.0</tspan></text>
<path d="M449.5 182.15h14.4" stroke="#ff7f0e" stroke-width="1.15" fill="none"/>
<circle cx="456.7" cy="182.15" r="1.45" fill="#ff7f0e"/>
<text y="184.65" font-size="6.9"><tspan x="469.4" font-style="italic">η</tspan><tspan x="475.3">=</tspan><tspan x="482.4" class="b">4.0</tspan></text>
<path d="M449.5 192.6h14.4" stroke="#2ca02c" stroke-width="1.15" fill="none"/>
<path d="M455.25 191.15L458.15 191.15L456.7 194.05Z" fill="#2ca02c"/>
<text y="195.1" font-size="6.9"><tspan x="469.4" font-style="italic">η</tspan><tspan x="475.3">=</tspan><tspan x="482.4" class="b">8.0</tspan></text>
<path d="M449.5 203.05h14.4" stroke="#d62728" stroke-width="1.15" fill="none"/>
<path d="M455.25 204.5L458.15 204.5L456.7 201.6Z" fill="#d62728"/>
<text y="205.55" font-size="6.9"><tspan x="469.4" font-style="italic">η</tspan><tspan x="475.3">=</tspan><tspan x="482.4" class="b">12.0</tspan></text>
<path d="M449.5 213.5h14.4" stroke="#9467bd" stroke-width="1.15" fill="none"/>
<rect x="455.25" y="212.05" width="2.9" height="2.9" fill="#9467bd"/>
<text y="216" font-size="6.9"><tspan x="469.4" font-style="italic">η</tspan><tspan x="475.3">=</tspan><tspan x="482.4" class="b">16.0</tspan></text>
<path d="M449.5 223.95h14.4" stroke="#8c564b" stroke-width="1.15" fill="none"/>
<circle cx="456.7" cy="223.95" r="1.09" fill="#8c564b"/>
<text y="226.45" font-size="6.9"><tspan x="469.4" font-style="italic">η</tspan><tspan x="475.3">=</tspan><tspan x="482.4" class="b">20.0</tspan></text>
<text x="429.3" y="284.1" text-anchor="middle" font-family="'Liberation Serif','DejaVu Serif',serif" font-size="11.8" stroke="#000" stroke-width="0.3">(f)</text>
</g>
</svg>
</body></html>
